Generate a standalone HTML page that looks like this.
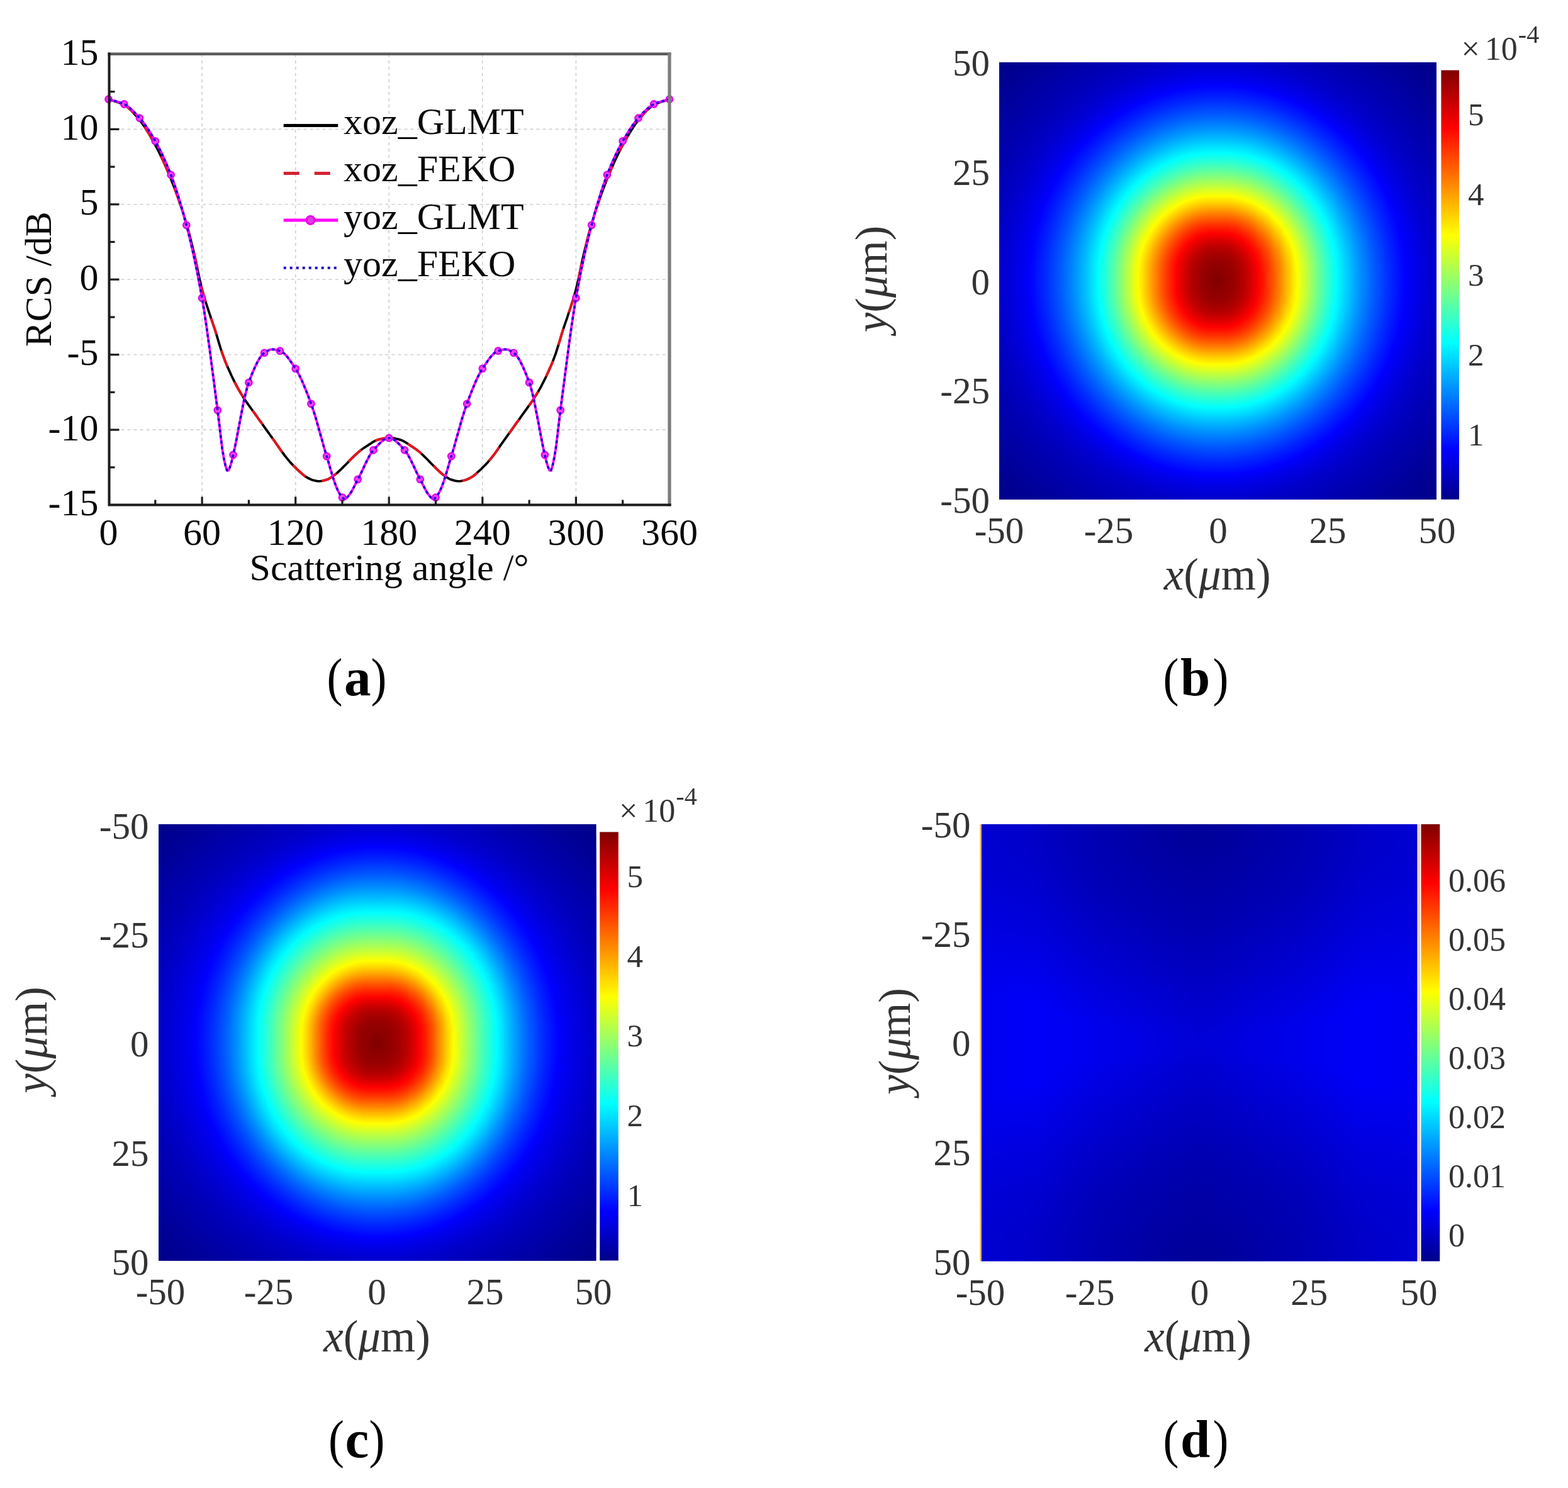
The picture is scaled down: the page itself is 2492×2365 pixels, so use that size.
<!DOCTYPE html>
<html lang="en"><head><meta charset="utf-8"><title>Figure: RCS and field distributions</title>
<style>html,body{margin:0;padding:0;background:#fff}body{width:2492px;height:2365px}svg{display:block}text{white-space:pre}</style>
</head><body>
<svg width="2492" height="2365" viewBox="0 0 2492 2365" role="img" aria-label="Four-panel figure: RCS curves and field intensity maps">
<defs><clipPath id="clipA"><rect x="170.5" y="86.0" width="895.5" height="716.5"/></clipPath></defs>
<rect x="0" y="0" width="2492" height="2365" fill="#fff"/>
<g id="panel-a">
<g stroke="#d0d0d0" stroke-width="1.6" stroke-dasharray="5 5" fill="none"><line x1="321.1" y1="86.0" x2="321.1" y2="802.5"/><line x1="469.7" y1="86.0" x2="469.7" y2="802.5"/><line x1="618.2" y1="86.0" x2="618.2" y2="802.5"/><line x1="766.8" y1="86.0" x2="766.8" y2="802.5"/><line x1="915.4" y1="86.0" x2="915.4" y2="802.5"/><line x1="172.5" y1="205.4" x2="1064.0" y2="205.4"/><line x1="172.5" y1="324.8" x2="1064.0" y2="324.8"/><line x1="172.5" y1="444.2" x2="1064.0" y2="444.2"/><line x1="172.5" y1="563.7" x2="1064.0" y2="563.7"/><line x1="172.5" y1="683.1" x2="1064.0" y2="683.1"/></g>
<g fill="none" stroke-linejoin="round" clip-path="url(#clipA)">
<path d="M172.5,157.7 L175.0,158.5 L177.5,159.3 L179.9,160.1 L182.4,160.9 L184.9,161.7 L187.4,162.5 L189.8,163.4 L192.3,164.4 L194.8,165.5 L197.3,166.7 L199.7,168.2 L202.2,170.0 L204.7,172.0 L207.2,174.3 L209.6,176.8 L212.1,179.4 L214.6,182.2 L217.1,185.1 L219.6,188.1 L222.0,191.1 L224.5,194.2 L227.0,197.6 L229.5,201.2 L231.9,204.9 L234.4,208.9 L236.9,213.0 L239.4,217.2 L241.8,221.5 L244.3,226.0 L246.8,230.5 L249.3,235.1 L251.7,239.9 L254.2,244.9 L256.7,250.1 L259.2,255.4 L261.6,260.8 L264.1,266.5 L266.6,272.2 L269.1,278.2 L271.6,284.2 L274.0,290.5 L276.5,296.9 L279.0,303.5 L281.5,310.3 L283.9,317.3 L286.4,324.6 L288.9,332.0 L291.4,339.7 L293.8,347.7 L296.3,355.9 L298.8,364.5 L301.3,373.7 L303.7,383.4 L306.2,393.4 L308.7,403.6 L311.2,414.6 L313.7,426.4 L316.1,438.4 L318.6,449.8 L321.1,460.0 L323.6,468.9 L326.0,477.0 L328.5,484.8 L331.0,492.5 L333.5,500.0 L335.9,507.3 L338.4,514.5 L340.9,521.9 L343.4,529.6 L345.8,537.8 L348.3,546.1 L350.8,554.2 L353.3,561.8 L355.8,568.6 L358.2,575.0 L360.7,580.9 L363.2,586.6 L365.7,592.1 L368.1,597.5 L370.6,602.7 L373.1,607.6 L375.6,612.4 L378.0,617.0 L380.5,621.3 L383.0,625.5 L385.5,629.5 L387.9,633.3 L390.4,637.1 L392.9,640.7 L395.4,644.2 L397.9,647.6 L400.3,651.0 L402.8,654.4 L405.3,657.9 L407.8,661.3 L410.2,664.8 L412.7,668.3 L415.2,671.7 L417.7,675.2 L420.1,678.6 L422.6,682.1 L425.1,685.6 L427.6,689.0 L430.0,692.5 L432.5,695.9 L435.0,699.4 L437.5,702.9 L439.9,706.3 L442.4,709.9 L444.9,713.5 L447.4,717.1 L449.9,720.5 L452.3,723.8 L454.8,726.9 L457.3,730.0 L459.8,732.9 L462.2,735.7 L464.7,738.4 L467.2,741.0 L469.7,743.4 L472.1,745.8 L474.6,748.1 L477.1,750.3 L479.6,752.6 L482.0,754.7 L484.5,756.7 L487.0,758.4 L489.5,759.7 L492.0,761.0 L494.4,762.1 L496.9,763.0 L499.4,763.7 L501.9,764.2 L504.3,764.6 L506.8,764.8 L509.3,764.7 L511.8,764.3 L514.2,763.8 L516.7,763.1 L519.2,762.4 L521.7,761.4 L524.1,760.1 L526.6,758.5 L529.1,756.8 L531.6,755.0 L534.1,753.1 L536.5,751.0 L539.0,748.7 L541.5,746.3 L544.0,743.9 L546.4,741.4 L548.9,739.0 L551.4,736.5 L553.9,733.9 L556.3,731.3 L558.8,728.7 L561.3,726.3 L563.8,723.9 L566.2,721.6 L568.7,719.4 L571.2,717.3 L573.7,715.3 L576.2,713.5 L578.6,711.8 L581.1,710.2 L583.6,708.6 L586.1,706.9 L588.5,705.3 L591.0,703.6 L593.5,702.1 L596.0,700.8 L598.4,699.8 L600.9,698.9 L603.4,698.1 L605.9,697.5 L608.3,697.0 L610.8,696.7 L613.3,696.5 L615.8,696.3 L618.2,696.2 L620.7,696.3 L623.2,696.5 L625.7,696.7 L628.2,697.0 L630.6,697.5 L633.1,698.1 L635.6,698.9 L638.1,699.8 L640.5,700.8 L643.0,702.1 L645.5,703.6 L648.0,705.3 L650.4,706.9 L652.9,708.6 L655.4,710.2 L657.9,711.8 L660.3,713.5 L662.8,715.3 L665.3,717.3 L667.8,719.4 L670.3,721.6 L672.7,723.9 L675.2,726.3 L677.7,728.7 L680.2,731.3 L682.6,733.9 L685.1,736.5 L687.6,739.0 L690.1,741.4 L692.5,743.9 L695.0,746.3 L697.5,748.7 L700.0,751.0 L702.4,753.1 L704.9,755.0 L707.4,756.8 L709.9,758.5 L712.4,760.1 L714.8,761.4 L717.3,762.4 L719.8,763.1 L722.3,763.8 L724.7,764.3 L727.2,764.7 L729.7,764.8 L732.2,764.6 L734.6,764.2 L737.1,763.7 L739.6,763.0 L742.1,762.1 L744.5,761.0 L747.0,759.7 L749.5,758.4 L752.0,756.7 L754.5,754.7 L756.9,752.6 L759.4,750.3 L761.9,748.1 L764.4,745.8 L766.8,743.4 L769.3,741.0 L771.8,738.4 L774.3,735.7 L776.7,732.9 L779.2,730.0 L781.7,726.9 L784.2,723.8 L786.6,720.5 L789.1,717.1 L791.6,713.5 L794.1,709.9 L796.5,706.3 L799.0,702.9 L801.5,699.4 L804.0,695.9 L806.5,692.5 L808.9,689.0 L811.4,685.6 L813.9,682.1 L816.4,678.6 L818.8,675.2 L821.3,671.7 L823.8,668.3 L826.3,664.8 L828.7,661.3 L831.2,657.9 L833.7,654.4 L836.2,651.0 L838.6,647.6 L841.1,644.2 L843.6,640.7 L846.1,637.1 L848.6,633.3 L851.0,629.5 L853.5,625.5 L856.0,621.3 L858.5,617.0 L860.9,612.4 L863.4,607.6 L865.9,602.7 L868.4,597.5 L870.8,592.1 L873.3,586.6 L875.8,580.9 L878.3,575.0 L880.7,568.6 L883.2,561.8 L885.7,554.2 L888.2,546.1 L890.7,537.8 L893.1,529.6 L895.6,521.9 L898.1,514.5 L900.6,507.3 L903.0,500.0 L905.5,492.5 L908.0,484.8 L910.5,477.0 L912.9,468.9 L915.4,460.0 L917.9,449.8 L920.4,438.4 L922.8,426.4 L925.3,414.6 L927.8,403.6 L930.3,393.4 L932.8,383.4 L935.2,373.7 L937.7,364.5 L940.2,355.9 L942.7,347.7 L945.1,339.7 L947.6,332.0 L950.1,324.6 L952.6,317.3 L955.0,310.3 L957.5,303.5 L960.0,296.9 L962.5,290.5 L964.9,284.2 L967.4,278.2 L969.9,272.2 L972.4,266.5 L974.9,260.8 L977.3,255.4 L979.8,250.1 L982.3,244.9 L984.8,239.9 L987.2,235.1 L989.7,230.5 L992.2,226.0 L994.7,221.5 L997.1,217.2 L999.6,213.0 L1002.1,208.9 L1004.6,204.9 L1007.0,201.2 L1009.5,197.6 L1012.0,194.2 L1014.5,191.1 L1016.9,188.1 L1019.4,185.1 L1021.9,182.2 L1024.4,179.4 L1026.9,176.8 L1029.3,174.3 L1031.8,172.0 L1034.3,170.0 L1036.8,168.2 L1039.2,166.7 L1041.7,165.5 L1044.2,164.4 L1046.7,163.4 L1049.1,162.5 L1051.6,161.7 L1054.1,160.9 L1056.6,160.1 L1059.0,159.3 L1061.5,158.5 L1064.0,157.7" stroke="#000" stroke-width="3.8"/>
<path d="M172.5,157.7 L175.0,158.5 L177.5,159.3 L179.9,160.1 L182.4,160.9 L184.9,161.7 L187.4,162.5 L189.8,163.4 L192.3,164.4 L194.8,165.5 L197.3,166.7 L199.7,168.2 L202.2,170.0 L204.7,172.0 L207.2,174.3 L209.6,176.8 L212.1,179.4 L214.6,182.2 L217.1,185.1 L219.6,188.1 L222.0,191.1 L224.5,194.2 L227.0,197.6 L229.5,201.2 L231.9,204.9 L234.4,208.9 L236.9,213.0 L239.4,217.2 L241.8,221.5 L244.3,226.0 L246.8,230.5 L249.3,235.1 L251.7,239.9 L254.2,244.9 L256.7,250.1 L259.2,255.4 L261.6,260.8 L264.1,266.5 L266.6,272.2 L269.1,278.2 L271.6,284.2 L274.0,290.5 L276.5,296.9 L279.0,303.5 L281.5,310.3 L283.9,317.3 L286.4,324.6 L288.9,332.0 L291.4,339.7 L293.8,347.7 L296.3,355.9 L298.8,364.5 L301.3,373.7 L303.7,383.4 L306.2,393.4 L308.7,403.6 L311.2,414.6 L313.7,426.4 L316.1,438.4 L318.6,449.8 L321.1,460.0 L323.6,468.9 L326.0,477.0 L328.5,484.8 L331.0,492.5 L333.5,500.0 L335.9,507.3 L338.4,514.5 L340.9,521.9 L343.4,529.6 L345.8,537.8 L348.3,546.1 L350.8,554.2 L353.3,561.8 L355.8,568.6 L358.2,575.0 L360.7,580.9 L363.2,586.6 L365.7,592.1 L368.1,597.5 L370.6,602.7 L373.1,607.6 L375.6,612.4 L378.0,617.0 L380.5,621.3 L383.0,625.5 L385.5,629.5 L387.9,633.3 L390.4,637.1 L392.9,640.7 L395.4,644.2 L397.9,647.6 L400.3,651.0 L402.8,654.4 L405.3,657.9 L407.8,661.3 L410.2,664.8 L412.7,668.3 L415.2,671.7 L417.7,675.2 L420.1,678.6 L422.6,682.1 L425.1,685.6 L427.6,689.0 L430.0,692.5 L432.5,695.9 L435.0,699.4 L437.5,702.9 L439.9,706.3 L442.4,709.9 L444.9,713.5 L447.4,717.1 L449.9,720.5 L452.3,723.8 L454.8,726.9 L457.3,730.0 L459.8,732.9 L462.2,735.7 L464.7,738.4 L467.2,741.0 L469.7,743.4 L472.1,745.8 L474.6,748.1 L477.1,750.3 L479.6,752.6 L482.0,754.7 L484.5,756.7 L487.0,758.4 L489.5,759.7 L492.0,761.0 L494.4,762.1 L496.9,763.0 L499.4,763.7 L501.9,764.2 L504.3,764.6 L506.8,764.8 L509.3,764.7 L511.8,764.3 L514.2,763.8 L516.7,763.1 L519.2,762.4 L521.7,761.4 L524.1,760.1 L526.6,758.5 L529.1,756.8 L531.6,755.0 L534.1,753.1 L536.5,751.0 L539.0,748.7 L541.5,746.3 L544.0,743.9 L546.4,741.4 L548.9,739.0 L551.4,736.5 L553.9,733.9 L556.3,731.3 L558.8,728.7 L561.3,726.3 L563.8,723.9 L566.2,721.6 L568.7,719.4 L571.2,717.3 L573.7,715.3 L576.2,713.5 L578.6,711.8 L581.1,710.2 L583.6,708.6 L586.1,706.9 L588.5,705.3 L591.0,703.6 L593.5,702.1 L596.0,700.8 L598.4,699.8 L600.9,698.9 L603.4,698.1 L605.9,697.5 L608.3,697.0 L610.8,696.7 L613.3,696.5 L615.8,696.3 L618.2,696.2 L620.7,696.3 L623.2,696.5 L625.7,696.7 L628.2,697.0 L630.6,697.5 L633.1,698.1 L635.6,698.9 L638.1,699.8 L640.5,700.8 L643.0,702.1 L645.5,703.6 L648.0,705.3 L650.4,706.9 L652.9,708.6 L655.4,710.2 L657.9,711.8 L660.3,713.5 L662.8,715.3 L665.3,717.3 L667.8,719.4 L670.3,721.6 L672.7,723.9 L675.2,726.3 L677.7,728.7 L680.2,731.3 L682.6,733.9 L685.1,736.5 L687.6,739.0 L690.1,741.4 L692.5,743.9 L695.0,746.3 L697.5,748.7 L700.0,751.0 L702.4,753.1 L704.9,755.0 L707.4,756.8 L709.9,758.5 L712.4,760.1 L714.8,761.4 L717.3,762.4 L719.8,763.1 L722.3,763.8 L724.7,764.3 L727.2,764.7 L729.7,764.8 L732.2,764.6 L734.6,764.2 L737.1,763.7 L739.6,763.0 L742.1,762.1 L744.5,761.0 L747.0,759.7 L749.5,758.4 L752.0,756.7 L754.5,754.7 L756.9,752.6 L759.4,750.3 L761.9,748.1 L764.4,745.8 L766.8,743.4 L769.3,741.0 L771.8,738.4 L774.3,735.7 L776.7,732.9 L779.2,730.0 L781.7,726.9 L784.2,723.8 L786.6,720.5 L789.1,717.1 L791.6,713.5 L794.1,709.9 L796.5,706.3 L799.0,702.9 L801.5,699.4 L804.0,695.9 L806.5,692.5 L808.9,689.0 L811.4,685.6 L813.9,682.1 L816.4,678.6 L818.8,675.2 L821.3,671.7 L823.8,668.3 L826.3,664.8 L828.7,661.3 L831.2,657.9 L833.7,654.4 L836.2,651.0 L838.6,647.6 L841.1,644.2 L843.6,640.7 L846.1,637.1 L848.6,633.3 L851.0,629.5 L853.5,625.5 L856.0,621.3 L858.5,617.0 L860.9,612.4 L863.4,607.6 L865.9,602.7 L868.4,597.5 L870.8,592.1 L873.3,586.6 L875.8,580.9 L878.3,575.0 L880.7,568.6 L883.2,561.8 L885.7,554.2 L888.2,546.1 L890.7,537.8 L893.1,529.6 L895.6,521.9 L898.1,514.5 L900.6,507.3 L903.0,500.0 L905.5,492.5 L908.0,484.8 L910.5,477.0 L912.9,468.9 L915.4,460.0 L917.9,449.8 L920.4,438.4 L922.8,426.4 L925.3,414.6 L927.8,403.6 L930.3,393.4 L932.8,383.4 L935.2,373.7 L937.7,364.5 L940.2,355.9 L942.7,347.7 L945.1,339.7 L947.6,332.0 L950.1,324.6 L952.6,317.3 L955.0,310.3 L957.5,303.5 L960.0,296.9 L962.5,290.5 L964.9,284.2 L967.4,278.2 L969.9,272.2 L972.4,266.5 L974.9,260.8 L977.3,255.4 L979.8,250.1 L982.3,244.9 L984.8,239.9 L987.2,235.1 L989.7,230.5 L992.2,226.0 L994.7,221.5 L997.1,217.2 L999.6,213.0 L1002.1,208.9 L1004.6,204.9 L1007.0,201.2 L1009.5,197.6 L1012.0,194.2 L1014.5,191.1 L1016.9,188.1 L1019.4,185.1 L1021.9,182.2 L1024.4,179.4 L1026.9,176.8 L1029.3,174.3 L1031.8,172.0 L1034.3,170.0 L1036.8,168.2 L1039.2,166.7 L1041.7,165.5 L1044.2,164.4 L1046.7,163.4 L1049.1,162.5 L1051.6,161.7 L1054.1,160.9 L1056.6,160.1 L1059.0,159.3 L1061.5,158.5 L1064.0,157.7" stroke="#e8141e" stroke-width="3.8" stroke-dasharray="27 27" stroke-dashoffset="-20"/>
<path d="M172.5,157.7 L175.0,158.4 L177.5,159.1 L179.9,159.8 L182.4,160.4 L184.9,161.1 L187.4,161.8 L189.8,162.6 L192.3,163.5 L194.8,164.4 L197.3,165.5 L199.7,166.8 L202.2,168.4 L204.7,170.3 L207.2,172.4 L209.6,174.6 L212.1,177.1 L214.6,179.6 L217.1,182.3 L219.6,185.0 L222.0,187.7 L224.5,190.6 L227.0,193.7 L229.5,197.0 L231.9,200.4 L234.4,204.0 L236.9,207.8 L239.4,211.7 L241.8,215.8 L244.3,220.0 L246.8,224.3 L249.3,228.7 L251.7,233.4 L254.2,238.2 L256.7,243.2 L259.2,248.4 L261.6,253.9 L264.1,259.5 L266.6,265.4 L269.1,271.5 L271.6,277.8 L274.0,284.4 L276.5,291.3 L279.0,298.5 L281.5,306.1 L283.9,314.0 L286.4,322.2 L288.9,330.6 L291.4,339.4 L293.8,348.5 L296.3,357.8 L298.8,367.4 L301.3,377.5 L303.7,387.9 L306.2,398.7 L308.7,410.0 L311.2,421.7 L313.7,433.9 L316.1,446.6 L318.6,459.9 L321.1,473.6 L323.6,488.3 L326.0,504.2 L328.5,521.1 L331.0,538.9 L333.5,557.2 L335.9,576.0 L338.4,595.1 L340.9,614.2 L343.4,633.3 L345.8,652.0 L348.3,672.3 L350.8,694.0 L353.3,713.8 L355.8,728.5 L358.2,739.6 L360.7,747.5 L363.2,747.7 L365.7,741.7 L368.1,733.7 L370.6,723.0 L373.1,711.8 L375.6,699.6 L378.0,686.8 L380.5,673.7 L383.0,660.6 L385.5,647.9 L387.9,635.9 L390.4,625.0 L392.9,615.5 L395.4,607.9 L397.9,601.3 L400.3,594.9 L402.8,588.9 L405.3,583.3 L407.8,578.1 L410.2,573.3 L412.7,569.2 L415.2,565.7 L417.7,562.9 L420.1,560.8 L422.6,559.2 L425.1,557.7 L427.6,556.4 L430.0,555.6 L432.5,555.3 L435.0,555.4 L437.5,555.8 L439.9,556.3 L442.4,557.0 L444.9,557.7 L447.4,558.8 L449.9,560.4 L452.3,562.5 L454.8,565.1 L457.3,568.0 L459.8,571.3 L462.2,574.8 L464.7,578.4 L467.2,582.1 L469.7,585.9 L472.1,589.9 L474.6,594.3 L477.1,599.2 L479.6,604.5 L482.0,610.1 L484.5,616.1 L487.0,622.2 L489.5,628.6 L492.0,635.1 L494.4,641.8 L496.9,648.8 L499.4,656.5 L501.9,664.6 L504.3,673.1 L506.8,681.9 L509.3,690.7 L511.8,699.6 L514.2,708.4 L516.7,716.9 L519.2,725.1 L521.7,733.3 L524.1,741.8 L526.6,750.3 L529.1,758.5 L531.6,766.1 L534.1,772.9 L536.5,778.6 L539.0,783.4 L541.5,787.5 L544.0,790.6 L546.4,793.0 L548.9,793.1 L551.4,791.0 L553.9,788.2 L556.3,785.0 L558.8,781.0 L561.3,776.4 L563.8,771.5 L566.2,766.6 L568.7,761.9 L571.2,757.2 L573.7,752.2 L576.2,746.9 L578.6,741.6 L581.1,736.4 L583.6,731.3 L586.1,726.5 L588.5,722.2 L591.0,718.4 L593.5,715.3 L596.0,712.6 L598.4,709.9 L600.9,707.2 L603.4,704.7 L605.9,702.4 L608.3,700.3 L610.8,698.6 L613.3,697.3 L615.8,696.5 L618.2,696.2 L620.7,696.5 L623.2,697.3 L625.7,698.6 L628.2,700.3 L630.6,702.4 L633.1,704.7 L635.6,707.2 L638.1,709.9 L640.5,712.6 L643.0,715.3 L645.5,718.4 L648.0,722.2 L650.4,726.5 L652.9,731.3 L655.4,736.4 L657.9,741.6 L660.3,746.9 L662.8,752.2 L665.3,757.2 L667.8,761.9 L670.3,766.6 L672.7,771.5 L675.2,776.4 L677.7,781.0 L680.2,785.0 L682.6,788.2 L685.1,791.0 L687.6,793.1 L690.1,793.0 L692.5,790.6 L695.0,787.5 L697.5,783.4 L700.0,778.6 L702.4,772.9 L704.9,766.1 L707.4,758.5 L709.9,750.3 L712.4,741.8 L714.8,733.3 L717.3,725.1 L719.8,716.9 L722.3,708.4 L724.7,699.6 L727.2,690.7 L729.7,681.9 L732.2,673.1 L734.6,664.6 L737.1,656.5 L739.6,648.8 L742.1,641.8 L744.5,635.1 L747.0,628.6 L749.5,622.2 L752.0,616.1 L754.5,610.1 L756.9,604.5 L759.4,599.2 L761.9,594.3 L764.4,589.9 L766.8,585.9 L769.3,582.1 L771.8,578.4 L774.3,574.8 L776.7,571.3 L779.2,568.0 L781.7,565.1 L784.2,562.5 L786.6,560.4 L789.1,558.8 L791.6,557.7 L794.1,557.0 L796.5,556.3 L799.0,555.8 L801.5,555.4 L804.0,555.3 L806.5,555.6 L808.9,556.4 L811.4,557.7 L813.9,559.2 L816.4,560.8 L818.8,562.9 L821.3,565.7 L823.8,569.2 L826.3,573.3 L828.7,578.1 L831.2,583.3 L833.7,588.9 L836.2,594.9 L838.6,601.3 L841.1,607.9 L843.6,615.5 L846.1,625.0 L848.6,635.9 L851.0,647.9 L853.5,660.6 L856.0,673.7 L858.5,686.8 L860.9,699.6 L863.4,711.8 L865.9,723.0 L868.4,733.7 L870.8,741.7 L873.3,747.7 L875.8,747.5 L878.3,739.6 L880.7,728.5 L883.2,713.8 L885.7,694.0 L888.2,672.3 L890.7,652.0 L893.1,633.3 L895.6,614.2 L898.1,595.1 L900.6,576.0 L903.0,557.2 L905.5,538.9 L908.0,521.1 L910.5,504.2 L912.9,488.3 L915.4,473.6 L917.9,459.9 L920.4,446.6 L922.8,433.9 L925.3,421.7 L927.8,410.0 L930.3,398.7 L932.8,387.9 L935.2,377.5 L937.7,367.4 L940.2,357.8 L942.7,348.5 L945.1,339.4 L947.6,330.6 L950.1,322.2 L952.6,314.0 L955.0,306.1 L957.5,298.5 L960.0,291.3 L962.5,284.4 L964.9,277.8 L967.4,271.5 L969.9,265.4 L972.4,259.5 L974.9,253.9 L977.3,248.4 L979.8,243.2 L982.3,238.2 L984.8,233.4 L987.2,228.7 L989.7,224.3 L992.2,220.0 L994.7,215.8 L997.1,211.7 L999.6,207.8 L1002.1,204.0 L1004.6,200.4 L1007.0,197.0 L1009.5,193.7 L1012.0,190.6 L1014.5,187.7 L1016.9,185.0 L1019.4,182.3 L1021.9,179.6 L1024.4,177.1 L1026.9,174.6 L1029.3,172.4 L1031.8,170.3 L1034.3,168.4 L1036.8,166.8 L1039.2,165.5 L1041.7,164.4 L1044.2,163.5 L1046.7,162.6 L1049.1,161.8 L1051.6,161.1 L1054.1,160.4 L1056.6,159.8 L1059.0,159.1 L1061.5,158.4 L1064.0,157.7" stroke="#f000f8" stroke-width="3.8"/>
</g>
<g fill="#ee44f4" stroke="#e000ea" stroke-width="2.4"><circle cx="172.5" cy="157.7" r="5.2"/><circle cx="197.3" cy="165.5" r="5.2"/><circle cx="222.0" cy="187.7" r="5.2"/><circle cx="246.8" cy="224.3" r="5.2"/><circle cx="271.6" cy="277.8" r="5.2"/><circle cx="296.3" cy="357.8" r="5.2"/><circle cx="321.1" cy="473.6" r="5.2"/><circle cx="345.8" cy="652.0" r="5.2"/><circle cx="370.6" cy="723.0" r="5.2"/><circle cx="395.4" cy="607.9" r="5.2"/><circle cx="420.1" cy="560.8" r="5.2"/><circle cx="444.9" cy="557.7" r="5.2"/><circle cx="469.7" cy="585.9" r="5.2"/><circle cx="494.4" cy="641.8" r="5.2"/><circle cx="519.2" cy="725.1" r="5.2"/><circle cx="544.0" cy="790.6" r="5.2"/><circle cx="568.7" cy="761.9" r="5.2"/><circle cx="593.5" cy="715.3" r="5.2"/><circle cx="618.2" cy="696.2" r="5.2"/><circle cx="643.0" cy="715.3" r="5.2"/><circle cx="667.8" cy="761.9" r="5.2"/><circle cx="692.5" cy="790.6" r="5.2"/><circle cx="717.3" cy="725.1" r="5.2"/><circle cx="742.1" cy="641.8" r="5.2"/><circle cx="766.8" cy="585.9" r="5.2"/><circle cx="791.6" cy="557.7" r="5.2"/><circle cx="816.4" cy="560.8" r="5.2"/><circle cx="841.1" cy="607.9" r="5.2"/><circle cx="865.9" cy="723.0" r="5.2"/><circle cx="890.7" cy="652.0" r="5.2"/><circle cx="915.4" cy="473.6" r="5.2"/><circle cx="940.2" cy="357.8" r="5.2"/><circle cx="964.9" cy="277.8" r="5.2"/><circle cx="989.7" cy="224.3" r="5.2"/><circle cx="1014.5" cy="187.7" r="5.2"/><circle cx="1039.2" cy="165.5" r="5.2"/><circle cx="1064.0" cy="157.7" r="5.2"/></g>
<path d="M172.5,157.7 L175.0,158.4 L177.5,159.1 L179.9,159.8 L182.4,160.4 L184.9,161.1 L187.4,161.8 L189.8,162.6 L192.3,163.5 L194.8,164.4 L197.3,165.5 L199.7,166.8 L202.2,168.4 L204.7,170.3 L207.2,172.4 L209.6,174.6 L212.1,177.1 L214.6,179.6 L217.1,182.3 L219.6,185.0 L222.0,187.7 L224.5,190.6 L227.0,193.7 L229.5,197.0 L231.9,200.4 L234.4,204.0 L236.9,207.8 L239.4,211.7 L241.8,215.8 L244.3,220.0 L246.8,224.3 L249.3,228.7 L251.7,233.4 L254.2,238.2 L256.7,243.2 L259.2,248.4 L261.6,253.9 L264.1,259.5 L266.6,265.4 L269.1,271.5 L271.6,277.8 L274.0,284.4 L276.5,291.3 L279.0,298.5 L281.5,306.1 L283.9,314.0 L286.4,322.2 L288.9,330.6 L291.4,339.4 L293.8,348.5 L296.3,357.8 L298.8,367.4 L301.3,377.5 L303.7,387.9 L306.2,398.7 L308.7,410.0 L311.2,421.7 L313.7,433.9 L316.1,446.6 L318.6,459.9 L321.1,473.6 L323.6,488.3 L326.0,504.2 L328.5,521.1 L331.0,538.9 L333.5,557.2 L335.9,576.0 L338.4,595.1 L340.9,614.2 L343.4,633.3 L345.8,652.0 L348.3,672.3 L350.8,694.0 L353.3,713.8 L355.8,728.5 L358.2,739.6 L360.7,747.5 L363.2,747.7 L365.7,741.7 L368.1,733.7 L370.6,723.0 L373.1,711.8 L375.6,699.6 L378.0,686.8 L380.5,673.7 L383.0,660.6 L385.5,647.9 L387.9,635.9 L390.4,625.0 L392.9,615.5 L395.4,607.9 L397.9,601.3 L400.3,594.9 L402.8,588.9 L405.3,583.3 L407.8,578.1 L410.2,573.3 L412.7,569.2 L415.2,565.7 L417.7,562.9 L420.1,560.8 L422.6,559.2 L425.1,557.7 L427.6,556.4 L430.0,555.6 L432.5,555.3 L435.0,555.4 L437.5,555.8 L439.9,556.3 L442.4,557.0 L444.9,557.7 L447.4,558.8 L449.9,560.4 L452.3,562.5 L454.8,565.1 L457.3,568.0 L459.8,571.3 L462.2,574.8 L464.7,578.4 L467.2,582.1 L469.7,585.9 L472.1,589.9 L474.6,594.3 L477.1,599.2 L479.6,604.5 L482.0,610.1 L484.5,616.1 L487.0,622.2 L489.5,628.6 L492.0,635.1 L494.4,641.8 L496.9,648.8 L499.4,656.5 L501.9,664.6 L504.3,673.1 L506.8,681.9 L509.3,690.7 L511.8,699.6 L514.2,708.4 L516.7,716.9 L519.2,725.1 L521.7,733.3 L524.1,741.8 L526.6,750.3 L529.1,758.5 L531.6,766.1 L534.1,772.9 L536.5,778.6 L539.0,783.4 L541.5,787.5 L544.0,790.6 L546.4,793.0 L548.9,793.1 L551.4,791.0 L553.9,788.2 L556.3,785.0 L558.8,781.0 L561.3,776.4 L563.8,771.5 L566.2,766.6 L568.7,761.9 L571.2,757.2 L573.7,752.2 L576.2,746.9 L578.6,741.6 L581.1,736.4 L583.6,731.3 L586.1,726.5 L588.5,722.2 L591.0,718.4 L593.5,715.3 L596.0,712.6 L598.4,709.9 L600.9,707.2 L603.4,704.7 L605.9,702.4 L608.3,700.3 L610.8,698.6 L613.3,697.3 L615.8,696.5 L618.2,696.2 L620.7,696.5 L623.2,697.3 L625.7,698.6 L628.2,700.3 L630.6,702.4 L633.1,704.7 L635.6,707.2 L638.1,709.9 L640.5,712.6 L643.0,715.3 L645.5,718.4 L648.0,722.2 L650.4,726.5 L652.9,731.3 L655.4,736.4 L657.9,741.6 L660.3,746.9 L662.8,752.2 L665.3,757.2 L667.8,761.9 L670.3,766.6 L672.7,771.5 L675.2,776.4 L677.7,781.0 L680.2,785.0 L682.6,788.2 L685.1,791.0 L687.6,793.1 L690.1,793.0 L692.5,790.6 L695.0,787.5 L697.5,783.4 L700.0,778.6 L702.4,772.9 L704.9,766.1 L707.4,758.5 L709.9,750.3 L712.4,741.8 L714.8,733.3 L717.3,725.1 L719.8,716.9 L722.3,708.4 L724.7,699.6 L727.2,690.7 L729.7,681.9 L732.2,673.1 L734.6,664.6 L737.1,656.5 L739.6,648.8 L742.1,641.8 L744.5,635.1 L747.0,628.6 L749.5,622.2 L752.0,616.1 L754.5,610.1 L756.9,604.5 L759.4,599.2 L761.9,594.3 L764.4,589.9 L766.8,585.9 L769.3,582.1 L771.8,578.4 L774.3,574.8 L776.7,571.3 L779.2,568.0 L781.7,565.1 L784.2,562.5 L786.6,560.4 L789.1,558.8 L791.6,557.7 L794.1,557.0 L796.5,556.3 L799.0,555.8 L801.5,555.4 L804.0,555.3 L806.5,555.6 L808.9,556.4 L811.4,557.7 L813.9,559.2 L816.4,560.8 L818.8,562.9 L821.3,565.7 L823.8,569.2 L826.3,573.3 L828.7,578.1 L831.2,583.3 L833.7,588.9 L836.2,594.9 L838.6,601.3 L841.1,607.9 L843.6,615.5 L846.1,625.0 L848.6,635.9 L851.0,647.9 L853.5,660.6 L856.0,673.7 L858.5,686.8 L860.9,699.6 L863.4,711.8 L865.9,723.0 L868.4,733.7 L870.8,741.7 L873.3,747.7 L875.8,747.5 L878.3,739.6 L880.7,728.5 L883.2,713.8 L885.7,694.0 L888.2,672.3 L890.7,652.0 L893.1,633.3 L895.6,614.2 L898.1,595.1 L900.6,576.0 L903.0,557.2 L905.5,538.9 L908.0,521.1 L910.5,504.2 L912.9,488.3 L915.4,473.6 L917.9,459.9 L920.4,446.6 L922.8,433.9 L925.3,421.7 L927.8,410.0 L930.3,398.7 L932.8,387.9 L935.2,377.5 L937.7,367.4 L940.2,357.8 L942.7,348.5 L945.1,339.4 L947.6,330.6 L950.1,322.2 L952.6,314.0 L955.0,306.1 L957.5,298.5 L960.0,291.3 L962.5,284.4 L964.9,277.8 L967.4,271.5 L969.9,265.4 L972.4,259.5 L974.9,253.9 L977.3,248.4 L979.8,243.2 L982.3,238.2 L984.8,233.4 L987.2,228.7 L989.7,224.3 L992.2,220.0 L994.7,215.8 L997.1,211.7 L999.6,207.8 L1002.1,204.0 L1004.6,200.4 L1007.0,197.0 L1009.5,193.7 L1012.0,190.6 L1014.5,187.7 L1016.9,185.0 L1019.4,182.3 L1021.9,179.6 L1024.4,177.1 L1026.9,174.6 L1029.3,172.4 L1031.8,170.3 L1034.3,168.4 L1036.8,166.8 L1039.2,165.5 L1041.7,164.4 L1044.2,163.5 L1046.7,162.6 L1049.1,161.8 L1051.6,161.1 L1054.1,160.4 L1056.6,159.8 L1059.0,159.1 L1061.5,158.4 L1064.0,157.7" fill="none" stroke="#2a00e0" stroke-width="3.6" stroke-dasharray="4.5 4.5" clip-path="url(#clipA)"/>
<path d="M171.5,85.7 H1066.5" fill="none" stroke="#5c5c5c" stroke-width="4.6"/>
<path d="M1064.0,83.4 V804.5" fill="none" stroke="#7c7c7c" stroke-width="5.2"/>
<path d="M173.5,83.4 V802.5 H1066.6" fill="none" stroke="#1c1c1c" stroke-width="4"/>
<g stroke="#1c1c1c" stroke-width="3.2"><line x1="246.8" y1="802.5" x2="246.8" y2="794.5"/><line x1="321.1" y1="802.5" x2="321.1" y2="789.5"/><line x1="395.4" y1="802.5" x2="395.4" y2="794.5"/><line x1="469.7" y1="802.5" x2="469.7" y2="789.5"/><line x1="544.0" y1="802.5" x2="544.0" y2="794.5"/><line x1="618.2" y1="802.5" x2="618.2" y2="789.5"/><line x1="692.5" y1="802.5" x2="692.5" y2="794.5"/><line x1="766.8" y1="802.5" x2="766.8" y2="789.5"/><line x1="841.1" y1="802.5" x2="841.1" y2="794.5"/><line x1="915.4" y1="802.5" x2="915.4" y2="789.5"/><line x1="989.7" y1="802.5" x2="989.7" y2="794.5"/><line x1="173.5" y1="145.7" x2="182.5" y2="145.7"/><line x1="173.5" y1="205.4" x2="189.5" y2="205.4"/><line x1="173.5" y1="265.1" x2="182.5" y2="265.1"/><line x1="173.5" y1="324.8" x2="189.5" y2="324.8"/><line x1="173.5" y1="384.5" x2="182.5" y2="384.5"/><line x1="173.5" y1="444.2" x2="189.5" y2="444.2"/><line x1="173.5" y1="504.0" x2="182.5" y2="504.0"/><line x1="173.5" y1="563.7" x2="189.5" y2="563.7"/><line x1="173.5" y1="623.4" x2="182.5" y2="623.4"/><line x1="173.5" y1="683.1" x2="189.5" y2="683.1"/><line x1="173.5" y1="742.8" x2="182.5" y2="742.8"/></g>
<g font-family='"Liberation Serif", "DejaVu Serif", serif' font-size="60" fill="#0a0a0a">
<text x="156.5" y="102.5" text-anchor="end">15</text>
<text x="156.5" y="221.9" text-anchor="end">10</text>
<text x="156.5" y="341.3" text-anchor="end">5</text>
<text x="156.5" y="460.8" text-anchor="end">0</text>
<text x="156.5" y="580.2" text-anchor="end">-5</text>
<text x="156.5" y="699.6" text-anchor="end">-10</text>
<text x="156.5" y="819.0" text-anchor="end">-15</text>
<text x="172.5" y="865.5" text-anchor="middle">0</text>
<text x="321.1" y="865.5" text-anchor="middle">60</text>
<text x="469.7" y="865.5" text-anchor="middle">120</text>
<text x="618.2" y="865.5" text-anchor="middle">180</text>
<text x="766.8" y="865.5" text-anchor="middle">240</text>
<text x="915.4" y="865.5" text-anchor="middle">300</text>
<text x="1064.0" y="865.5" text-anchor="middle">360</text>
<text x="618.5" y="921.5" text-anchor="middle">Scattering angle /°</text>
<text transform="translate(81,443.8) rotate(-90)" text-anchor="middle">RCS /dB</text>
<text x="546" y="212.8">xoz_GLMT</text>
<text x="546" y="288.0">xoz_FEKO</text>
<text x="546" y="364.2">yoz_GLMT</text>
<text x="546" y="438.6">yoz_FEKO</text>
</g>
<line x1="450.7" y1="199.6" x2="537.2" y2="199.6" stroke="#000" stroke-width="5"/>
<line x1="450.7" y1="275.4" x2="537.2" y2="275.4" stroke="#d42234" stroke-width="5" stroke-dasharray="25 24"/>
<line x1="450.7" y1="349.9" x2="537.2" y2="349.9" stroke="#ff00ff" stroke-width="5"/>
<circle cx="493.5" cy="349.9" r="6.5" fill="#e040e0" stroke="#e600e6" stroke-width="3"/>
<line x1="450.7" y1="425.7" x2="537.2" y2="425.7" stroke="#1a00c8" stroke-width="4" stroke-dasharray="4 6"/>
</g>
<g id="panel-b">
<clipPath id="gB"><rect x="1588.0" y="99.3" width="695.0" height="694.5"/></clipPath>
<g clip-path="url(#gB)" shape-rendering="geometricPrecision">
<rect x="1586.0" y="97.3" width="699.0" height="698.5" fill="#000080"/>
<rect x="1398.6" y="-90.8" width="1072.7" height="1072.7" rx="536.4" ry="536.3" fill="#000083"/><rect x="1422.4" y="-67.0" width="1025.1" height="1025.0" rx="512.6" ry="512.5" fill="#000087"/><rect x="1442.1" y="-47.4" width="985.8" height="985.7" rx="492.9" ry="492.9" fill="#00008b"/><rect x="1456.8" y="-32.9" width="956.5" height="956.9" rx="478.2" ry="478.4" fill="#00008f"/><rect x="1469.9" y="-20.0" width="930.2" height="931.0" rx="465.1" ry="465.5" fill="#000093"/><rect x="1481.9" y="-8.3" width="906.3" height="907.6" rx="453.1" ry="453.8" fill="#000097"/><rect x="1492.7" y="2.3" width="884.6" height="886.4" rx="442.3" ry="443.2" fill="#00009b"/><rect x="1502.7" y="12.0" width="864.6" height="867.0" rx="432.3" ry="433.5" fill="#00009f"/><rect x="1512.0" y="21.1" width="846.0" height="848.9" rx="423.0" ry="424.4" fill="#0000a3"/><rect x="1520.8" y="29.6" width="828.5" height="831.8" rx="414.2" ry="415.9" fill="#0000a7"/><rect x="1529.2" y="37.8" width="811.6" height="815.3" rx="405.8" ry="407.7" fill="#0000ab"/><rect x="1537.5" y="45.9" width="795.1" height="799.2" rx="397.5" ry="399.6" fill="#0000af"/><rect x="1545.5" y="53.9" width="779.0" height="783.2" rx="389.5" ry="391.6" fill="#0000b2"/><rect x="1553.2" y="61.6" width="763.5" height="767.8" rx="381.8" ry="383.9" fill="#0000b6"/><rect x="1560.6" y="69.0" width="748.8" height="753.0" rx="374.4" ry="376.5" fill="#0000ba"/><rect x="1567.6" y="75.9" width="734.9" height="739.1" rx="367.4" ry="369.6" fill="#0000be"/><rect x="1574.1" y="82.4" width="721.9" height="726.3" rx="360.9" ry="363.1" fill="#0000c2"/><rect x="1580.1" y="88.2" width="709.9" height="714.7" rx="354.9" ry="357.3" fill="#0000c6"/><rect x="1585.5" y="93.3" width="699.0" height="704.5" rx="349.5" ry="352.2" fill="#0000ca"/><rect x="1590.4" y="97.6" width="689.2" height="695.8" rx="344.6" ry="347.9" fill="#0000ce"/><rect x="1595.0" y="101.6" width="679.9" height="687.8" rx="340.0" ry="343.9" fill="#0000d2"/><rect x="1599.5" y="105.4" width="671.1" height="680.3" rx="335.5" ry="340.1" fill="#0000d6"/><rect x="1603.7" y="108.9" width="662.6" height="673.3" rx="331.3" ry="336.6" fill="#0000da"/><rect x="1607.8" y="112.2" width="654.5" height="666.6" rx="327.2" ry="333.3" fill="#0000de"/><rect x="1611.6" y="115.3" width="646.8" height="660.4" rx="323.4" ry="330.2" fill="#0000e2"/><rect x="1615.3" y="118.2" width="639.4" height="654.5" rx="319.7" ry="327.3" fill="#0000e6"/><rect x="1618.8" y="121.0" width="632.4" height="649.0" rx="316.2" ry="324.5" fill="#0000e9"/><rect x="1622.1" y="123.7" width="625.8" height="643.7" rx="312.9" ry="321.8" fill="#0000ed"/><rect x="1625.3" y="126.2" width="619.5" height="638.6" rx="309.7" ry="319.3" fill="#0000f1"/><rect x="1628.2" y="128.7" width="613.5" height="633.7" rx="306.8" ry="316.8" fill="#0000f5"/><rect x="1631.1" y="131.0" width="607.9" height="628.9" rx="303.9" ry="314.5" fill="#0000f9"/><rect x="1633.7" y="133.4" width="602.5" height="624.3" rx="301.3" ry="312.1" fill="#0000fd"/><rect x="1636.2" y="135.6" width="597.5" height="619.7" rx="298.7" ry="309.9" fill="#0002ff"/><rect x="1638.7" y="137.9" width="592.6" height="615.2" rx="296.3" ry="307.6" fill="#0006ff"/><rect x="1641.2" y="140.1" width="587.7" height="610.7" rx="293.8" ry="305.3" fill="#000aff"/><rect x="1643.6" y="142.3" width="582.9" height="606.3" rx="291.4" ry="303.1" fill="#000eff"/><rect x="1645.9" y="144.5" width="578.1" height="602.0" rx="289.0" ry="300.9" fill="#0012ff"/><rect x="1648.3" y="146.7" width="573.5" height="597.7" rx="286.6" ry="298.7" fill="#0016ff"/><rect x="1650.6" y="148.8" width="568.9" height="593.4" rx="284.2" ry="296.5" fill="#001aff"/><rect x="1652.8" y="150.9" width="564.3" height="589.2" rx="281.9" ry="294.3" fill="#001dff"/><rect x="1655.1" y="153.0" width="559.9" height="585.0" rx="279.6" ry="292.1" fill="#0021ff"/><rect x="1657.3" y="155.0" width="555.5" height="580.9" rx="277.3" ry="290.0" fill="#0025ff"/><rect x="1659.4" y="157.1" width="551.1" height="576.9" rx="275.0" ry="287.8" fill="#0029ff"/><rect x="1661.6" y="159.1" width="546.8" height="572.8" rx="272.8" ry="285.7" fill="#002dff"/><rect x="1663.7" y="161.1" width="542.6" height="568.9" rx="270.5" ry="283.6" fill="#0031ff"/><rect x="1665.8" y="163.0" width="538.5" height="564.9" rx="268.3" ry="281.5" fill="#0035ff"/><rect x="1667.8" y="165.0" width="534.3" height="561.0" rx="266.2" ry="279.5" fill="#0039ff"/><rect x="1669.9" y="166.9" width="530.3" height="557.2" rx="264.0" ry="277.4" fill="#003dff"/><rect x="1671.8" y="168.8" width="526.3" height="553.4" rx="261.9" ry="275.4" fill="#0041ff"/><rect x="1673.8" y="170.7" width="522.4" height="549.6" rx="259.8" ry="273.4" fill="#0045ff"/><rect x="1675.8" y="172.5" width="518.5" height="545.9" rx="257.7" ry="271.4" fill="#0049ff"/><rect x="1677.7" y="174.4" width="514.7" height="542.3" rx="255.7" ry="269.4" fill="#004dff"/><rect x="1679.6" y="176.2" width="510.9" height="538.6" rx="253.6" ry="267.4" fill="#0050ff"/><rect x="1681.4" y="178.0" width="507.2" height="535.0" rx="251.6" ry="265.4" fill="#0054ff"/><rect x="1683.3" y="179.8" width="503.5" height="531.5" rx="249.6" ry="263.5" fill="#0058ff"/><rect x="1685.1" y="181.5" width="499.9" height="527.9" rx="247.7" ry="261.6" fill="#005cff"/><rect x="1686.9" y="183.3" width="496.3" height="524.5" rx="245.7" ry="259.7" fill="#0060ff"/><rect x="1688.6" y="185.0" width="492.8" height="521.0" rx="243.8" ry="257.8" fill="#0064ff"/><rect x="1690.4" y="186.7" width="489.3" height="517.6" rx="241.9" ry="255.9" fill="#0068ff"/><rect x="1692.1" y="188.4" width="485.8" height="514.2" rx="240.0" ry="254.1" fill="#006cff"/><rect x="1693.8" y="190.1" width="482.4" height="510.9" rx="238.2" ry="252.2" fill="#0070ff"/><rect x="1695.5" y="191.7" width="479.1" height="507.6" rx="236.3" ry="250.4" fill="#0074ff"/><rect x="1697.1" y="193.4" width="475.8" height="504.3" rx="234.5" ry="248.6" fill="#0078ff"/><rect x="1698.7" y="195.0" width="472.5" height="501.0" rx="232.7" ry="246.8" fill="#007cff"/><rect x="1700.4" y="196.6" width="469.3" height="497.8" rx="231.0" ry="245.0" fill="#0080ff"/><rect x="1702.0" y="198.2" width="466.1" height="494.7" rx="229.2" ry="243.2" fill="#0083ff"/><rect x="1703.5" y="199.7" width="462.9" height="491.5" rx="227.5" ry="241.5" fill="#0087ff"/><rect x="1705.1" y="201.3" width="459.8" height="488.4" rx="225.8" ry="239.8" fill="#008bff"/><rect x="1706.6" y="202.9" width="456.8" height="485.3" rx="224.1" ry="238.0" fill="#008fff"/><rect x="1708.1" y="204.4" width="453.7" height="482.2" rx="222.4" ry="236.3" fill="#0093ff"/><rect x="1709.6" y="205.9" width="450.7" height="479.2" rx="220.7" ry="234.7" fill="#0097ff"/><rect x="1711.1" y="207.4" width="447.7" height="476.2" rx="219.1" ry="233.0" fill="#009bff"/><rect x="1712.6" y="208.9" width="444.8" height="473.2" rx="217.5" ry="231.3" fill="#009fff"/><rect x="1714.1" y="210.4" width="441.9" height="470.2" rx="215.9" ry="229.7" fill="#00a3ff"/><rect x="1715.5" y="211.9" width="439.0" height="467.3" rx="214.3" ry="228.1" fill="#00a7ff"/><rect x="1716.9" y="213.3" width="436.2" height="464.4" rx="212.7" ry="226.4" fill="#00abff"/><rect x="1718.3" y="214.8" width="433.3" height="461.5" rx="211.1" ry="224.8" fill="#00afff"/><rect x="1719.7" y="216.2" width="430.5" height="458.6" rx="209.6" ry="223.3" fill="#00b3ff"/><rect x="1721.1" y="217.6" width="427.8" height="455.7" rx="208.1" ry="221.7" fill="#00b6ff"/><rect x="1722.5" y="219.0" width="425.0" height="452.9" rx="206.6" ry="220.1" fill="#00baff"/><rect x="1723.8" y="220.4" width="422.3" height="450.1" rx="205.1" ry="218.6" fill="#00beff"/><rect x="1725.2" y="221.8" width="419.6" height="447.3" rx="203.6" ry="217.1" fill="#00c2ff"/><rect x="1726.5" y="223.2" width="416.9" height="444.5" rx="202.1" ry="215.5" fill="#00c6ff"/><rect x="1727.9" y="224.6" width="414.3" height="441.8" rx="200.7" ry="214.0" fill="#00caff"/><rect x="1729.2" y="226.0" width="411.6" height="439.1" rx="199.3" ry="212.5" fill="#00ceff"/><rect x="1730.5" y="227.3" width="409.0" height="436.3" rx="197.9" ry="211.1" fill="#00d2ff"/><rect x="1731.8" y="228.7" width="406.4" height="433.6" rx="196.4" ry="209.6" fill="#00d6ff"/><rect x="1733.1" y="230.0" width="403.9" height="430.9" rx="195.1" ry="208.1" fill="#00daff"/><rect x="1734.4" y="231.4" width="401.3" height="428.3" rx="193.7" ry="206.7" fill="#00deff"/><rect x="1735.6" y="232.7" width="398.7" height="425.6" rx="192.3" ry="205.3" fill="#00e2ff"/><rect x="1736.9" y="234.0" width="396.2" height="423.0" rx="191.0" ry="203.8" fill="#00e6ff"/><rect x="1738.2" y="235.3" width="393.7" height="420.3" rx="189.6" ry="202.4" fill="#00e9ff"/><rect x="1739.4" y="236.7" width="391.2" height="417.7" rx="188.3" ry="201.0" fill="#00edff"/><rect x="1740.7" y="238.0" width="388.7" height="415.1" rx="187.0" ry="199.7" fill="#00f1ff"/><rect x="1741.9" y="239.3" width="386.2" height="412.5" rx="185.6" ry="198.3" fill="#00f5ff"/><rect x="1743.1" y="240.6" width="383.7" height="409.9" rx="184.3" ry="196.9" fill="#00f9ff"/><rect x="1744.4" y="241.9" width="381.2" height="407.3" rx="183.0" ry="195.6" fill="#00fdff"/><rect x="1745.6" y="243.1" width="378.8" height="404.7" rx="181.8" ry="194.2" fill="#02fffd"/><rect x="1746.8" y="244.4" width="376.3" height="402.2" rx="180.5" ry="192.9" fill="#06fff9"/><rect x="1748.0" y="245.7" width="373.9" height="399.6" rx="179.2" ry="191.6" fill="#0afff5"/><rect x="1749.2" y="246.9" width="371.6" height="397.1" rx="178.0" ry="190.3" fill="#0efff1"/><rect x="1750.4" y="248.2" width="369.2" height="394.6" rx="176.8" ry="189.0" fill="#12ffed"/><rect x="1751.6" y="249.4" width="366.9" height="392.2" rx="175.6" ry="187.7" fill="#16ffe9"/><rect x="1752.7" y="250.6" width="364.6" height="389.7" rx="174.4" ry="186.4" fill="#1affe5"/><rect x="1753.8" y="251.8" width="362.3" height="387.3" rx="173.2" ry="185.2" fill="#1dffe2"/><rect x="1754.9" y="253.0" width="360.1" height="384.9" rx="172.1" ry="183.9" fill="#21ffde"/><rect x="1756.0" y="254.2" width="357.9" height="382.5" rx="171.0" ry="182.7" fill="#25ffda"/><rect x="1757.1" y="255.4" width="355.7" height="380.2" rx="169.8" ry="181.5" fill="#29ffd6"/><rect x="1758.2" y="256.6" width="353.6" height="377.8" rx="168.7" ry="180.3" fill="#2dffd2"/><rect x="1759.3" y="257.7" width="351.4" height="375.5" rx="167.6" ry="179.1" fill="#31ffce"/><rect x="1760.4" y="258.9" width="349.3" height="373.2" rx="166.5" ry="177.9" fill="#35ffca"/><rect x="1761.4" y="260.0" width="347.2" height="370.9" rx="165.4" ry="176.8" fill="#39ffc6"/><rect x="1762.4" y="261.2" width="345.1" height="368.7" rx="164.4" ry="175.6" fill="#3dffc2"/><rect x="1763.5" y="262.3" width="343.1" height="366.4" rx="163.3" ry="174.4" fill="#41ffbe"/><rect x="1764.5" y="263.4" width="341.0" height="364.2" rx="162.3" ry="173.3" fill="#45ffba"/><rect x="1765.5" y="264.5" width="339.0" height="362.0" rx="161.3" ry="172.2" fill="#49ffb6"/><rect x="1766.5" y="265.6" width="337.0" height="359.8" rx="160.2" ry="171.0" fill="#4dffb2"/><rect x="1767.5" y="266.7" width="335.1" height="357.6" rx="159.2" ry="169.9" fill="#50ffaf"/><rect x="1768.4" y="267.8" width="333.1" height="355.4" rx="158.2" ry="168.8" fill="#54ffab"/><rect x="1769.4" y="268.9" width="331.2" height="353.3" rx="157.2" ry="167.7" fill="#58ffa7"/><rect x="1770.4" y="269.9" width="329.2" height="351.1" rx="156.2" ry="166.6" fill="#5cffa3"/><rect x="1771.3" y="271.0" width="327.3" height="349.0" rx="155.3" ry="165.6" fill="#60ff9f"/><rect x="1772.3" y="272.0" width="325.4" height="346.9" rx="154.3" ry="164.5" fill="#64ff9b"/><rect x="1773.2" y="273.1" width="323.5" height="344.8" rx="153.3" ry="163.4" fill="#68ff97"/><rect x="1774.2" y="274.1" width="321.7" height="342.7" rx="152.4" ry="162.4" fill="#6cff93"/><rect x="1775.1" y="275.2" width="319.8" height="340.7" rx="151.4" ry="161.3" fill="#70ff8f"/><rect x="1776.0" y="276.2" width="318.0" height="338.6" rx="150.5" ry="160.3" fill="#74ff8b"/><rect x="1776.9" y="277.2" width="316.1" height="336.5" rx="149.6" ry="159.2" fill="#78ff87"/><rect x="1777.9" y="278.3" width="314.3" height="334.5" rx="148.6" ry="158.2" fill="#7cff83"/><rect x="1778.8" y="279.3" width="312.5" height="332.5" rx="147.7" ry="157.2" fill="#80ff80"/><rect x="1779.7" y="280.3" width="310.7" height="330.4" rx="146.8" ry="156.1" fill="#83ff7c"/><rect x="1780.6" y="281.3" width="308.9" height="328.4" rx="145.9" ry="155.1" fill="#87ff78"/><rect x="1781.5" y="282.3" width="307.1" height="326.4" rx="145.0" ry="154.1" fill="#8bff74"/><rect x="1782.4" y="283.3" width="305.3" height="324.4" rx="144.0" ry="153.1" fill="#8fff70"/><rect x="1783.3" y="284.3" width="303.5" height="322.4" rx="143.1" ry="152.1" fill="#93ff6c"/><rect x="1784.1" y="285.3" width="301.7" height="320.5" rx="142.2" ry="151.1" fill="#97ff68"/><rect x="1785.0" y="286.3" width="299.9" height="318.5" rx="141.3" ry="150.1" fill="#9bff64"/><rect x="1785.9" y="287.2" width="298.2" height="316.5" rx="140.4" ry="149.1" fill="#9fff60"/><rect x="1786.8" y="288.2" width="296.4" height="314.6" rx="139.5" ry="148.1" fill="#a3ff5c"/><rect x="1787.7" y="289.2" width="294.6" height="312.6" rx="138.6" ry="147.1" fill="#a7ff58"/><rect x="1788.6" y="290.2" width="292.9" height="310.6" rx="137.8" ry="146.1" fill="#abff54"/><rect x="1789.4" y="291.2" width="291.1" height="308.7" rx="136.9" ry="145.1" fill="#afff50"/><rect x="1790.3" y="292.1" width="289.3" height="306.8" rx="136.0" ry="144.1" fill="#b3ff4c"/><rect x="1791.2" y="293.1" width="287.6" height="304.8" rx="135.1" ry="143.2" fill="#b6ff49"/><rect x="1792.1" y="294.1" width="285.8" height="302.9" rx="134.2" ry="142.2" fill="#baff45"/><rect x="1793.0" y="295.0" width="284.1" height="300.9" rx="133.3" ry="141.2" fill="#beff41"/><rect x="1793.9" y="296.0" width="282.3" height="299.0" rx="132.4" ry="140.2" fill="#c2ff3d"/><rect x="1794.7" y="297.0" width="280.5" height="297.1" rx="131.5" ry="139.3" fill="#c6ff39"/><rect x="1795.6" y="297.9" width="278.7" height="295.2" rx="130.6" ry="138.3" fill="#caff35"/><rect x="1796.5" y="298.9" width="277.0" height="293.2" rx="129.7" ry="137.3" fill="#ceff31"/><rect x="1797.4" y="299.9" width="275.2" height="291.3" rx="128.8" ry="136.3" fill="#d2ff2d"/><rect x="1798.3" y="300.8" width="273.4" height="289.4" rx="127.9" ry="135.4" fill="#d6ff29"/><rect x="1799.2" y="301.8" width="271.6" height="287.4" rx="127.0" ry="134.4" fill="#daff25"/><rect x="1800.1" y="302.7" width="269.8" height="285.5" rx="126.1" ry="133.4" fill="#deff21"/><rect x="1801.0" y="303.7" width="268.0" height="283.6" rx="125.1" ry="132.4" fill="#e2ff1d"/><rect x="1801.9" y="304.7" width="266.1" height="281.6" rx="124.2" ry="131.5" fill="#e6ff19"/><rect x="1802.9" y="305.6" width="264.3" height="279.7" rx="123.3" ry="130.5" fill="#e9ff16"/><rect x="1803.8" y="306.6" width="262.4" height="277.8" rx="122.4" ry="129.5" fill="#edff12"/><rect x="1804.7" y="307.6" width="260.6" height="275.8" rx="121.4" ry="128.5" fill="#f1ff0e"/><rect x="1805.6" y="308.6" width="258.7" height="273.9" rx="120.5" ry="127.5" fill="#f5ff0a"/><rect x="1806.6" y="309.5" width="256.8" height="271.9" rx="119.5" ry="126.6" fill="#f9ff06"/><rect x="1807.5" y="310.5" width="255.0" height="270.0" rx="118.6" ry="125.6" fill="#fdff02"/><rect x="1808.5" y="311.5" width="253.0" height="268.0" rx="117.6" ry="124.6" fill="#fffd00"/><rect x="1809.4" y="312.5" width="251.2" height="266.1" rx="116.7" ry="123.6" fill="#fff900"/><rect x="1810.4" y="313.4" width="249.3" height="264.2" rx="115.7" ry="122.6" fill="#fff500"/><rect x="1811.3" y="314.4" width="247.4" height="262.3" rx="114.8" ry="121.7" fill="#fff100"/><rect x="1812.2" y="315.3" width="245.6" height="260.4" rx="113.8" ry="120.7" fill="#ffed00"/><rect x="1813.1" y="316.2" width="243.7" height="258.6" rx="112.9" ry="119.8" fill="#ffe900"/><rect x="1814.0" y="317.1" width="241.9" height="256.7" rx="112.0" ry="118.8" fill="#ffe500"/><rect x="1814.9" y="318.0" width="240.1" height="254.9" rx="111.0" ry="117.9" fill="#ffe200"/><rect x="1815.8" y="318.9" width="238.3" height="253.1" rx="110.1" ry="116.9" fill="#ffde00"/><rect x="1816.7" y="319.8" width="236.5" height="251.3" rx="109.2" ry="116.0" fill="#ffda00"/><rect x="1817.6" y="320.7" width="234.8" height="249.6" rx="108.3" ry="115.1" fill="#ffd600"/><rect x="1818.5" y="321.6" width="233.0" height="247.8" rx="107.3" ry="114.2" fill="#ffd200"/><rect x="1819.4" y="322.5" width="231.2" height="246.1" rx="106.4" ry="113.3" fill="#ffce00"/><rect x="1820.3" y="323.3" width="229.5" height="244.4" rx="105.5" ry="112.4" fill="#ffca00"/><rect x="1821.1" y="324.2" width="227.7" height="242.7" rx="104.6" ry="111.4" fill="#ffc600"/><rect x="1822.0" y="325.0" width="226.0" height="240.9" rx="103.7" ry="110.6" fill="#ffc200"/><rect x="1822.9" y="325.9" width="224.3" height="239.3" rx="102.8" ry="109.7" fill="#ffbe00"/><rect x="1823.7" y="326.7" width="222.5" height="237.6" rx="101.9" ry="108.8" fill="#ffba00"/><rect x="1824.6" y="327.6" width="220.8" height="235.9" rx="101.0" ry="107.9" fill="#ffb600"/><rect x="1825.5" y="328.4" width="219.1" height="234.2" rx="100.1" ry="107.0" fill="#ffb200"/><rect x="1826.3" y="329.2" width="217.4" height="232.6" rx="99.2" ry="106.1" fill="#ffaf00"/><rect x="1827.2" y="330.0" width="215.7" height="230.9" rx="98.3" ry="105.3" fill="#ffab00"/><rect x="1828.0" y="330.9" width="213.9" height="229.3" rx="97.4" ry="104.4" fill="#ffa700"/><rect x="1828.9" y="331.7" width="212.2" height="227.6" rx="96.5" ry="103.5" fill="#ffa300"/><rect x="1829.7" y="332.5" width="210.5" height="226.0" rx="95.6" ry="102.6" fill="#ff9f00"/><rect x="1830.6" y="333.3" width="208.8" height="224.3" rx="94.7" ry="101.8" fill="#ff9b00"/><rect x="1831.5" y="334.2" width="207.1" height="222.7" rx="93.9" ry="100.9" fill="#ff9700"/><rect x="1832.3" y="335.0" width="205.4" height="221.0" rx="93.0" ry="100.1" fill="#ff9300"/><rect x="1833.2" y="335.8" width="203.6" height="219.4" rx="92.1" ry="99.2" fill="#ff8f00"/><rect x="1834.1" y="336.6" width="201.9" height="217.7" rx="91.2" ry="98.3" fill="#ff8b00"/><rect x="1834.9" y="337.5" width="200.2" height="216.1" rx="90.3" ry="97.5" fill="#ff8700"/><rect x="1835.8" y="338.3" width="198.4" height="214.4" rx="89.4" ry="96.6" fill="#ff8300"/><rect x="1836.7" y="339.1" width="196.7" height="212.7" rx="88.5" ry="95.8" fill="#ff8000"/><rect x="1837.5" y="340.0" width="194.9" height="211.1" rx="87.6" ry="94.9" fill="#ff7c00"/><rect x="1838.4" y="340.8" width="193.2" height="209.4" rx="86.8" ry="94.0" fill="#ff7800"/><rect x="1839.3" y="341.6" width="191.4" height="207.7" rx="85.9" ry="93.2" fill="#ff7400"/><rect x="1840.2" y="342.5" width="189.6" height="206.0" rx="85.0" ry="92.3" fill="#ff7000"/><rect x="1841.1" y="343.3" width="187.8" height="204.3" rx="84.1" ry="91.5" fill="#ff6c00"/><rect x="1842.0" y="344.2" width="186.0" height="202.6" rx="83.2" ry="90.6" fill="#ff6800"/><rect x="1842.9" y="345.1" width="184.2" height="200.9" rx="82.3" ry="89.7" fill="#ff6400"/><rect x="1843.8" y="345.9" width="182.4" height="199.1" rx="81.4" ry="88.9" fill="#ff6000"/><rect x="1844.7" y="346.8" width="180.6" height="197.4" rx="80.5" ry="88.0" fill="#ff5c00"/><rect x="1845.6" y="347.7" width="178.7" height="195.6" rx="79.6" ry="87.1" fill="#ff5800"/><rect x="1846.6" y="348.6" width="176.9" height="193.8" rx="78.7" ry="86.3" fill="#ff5400"/><rect x="1847.5" y="349.5" width="175.0" height="192.0" rx="77.8" ry="85.4" fill="#ff5000"/><rect x="1848.5" y="350.4" width="173.1" height="190.2" rx="76.9" ry="84.5" fill="#ff4c00"/><rect x="1849.4" y="351.3" width="171.2" height="188.4" rx="76.0" ry="83.6" fill="#ff4900"/><rect x="1850.4" y="352.2" width="169.3" height="186.5" rx="75.1" ry="82.7" fill="#ff4500"/><rect x="1851.3" y="353.2" width="167.3" height="184.6" rx="74.1" ry="81.8" fill="#ff4100"/><rect x="1852.3" y="354.1" width="165.4" height="182.8" rx="73.2" ry="80.9" fill="#ff3d00"/><rect x="1853.3" y="355.1" width="163.4" height="180.8" rx="72.3" ry="80.0" fill="#ff3900"/><rect x="1854.3" y="356.1" width="161.4" height="178.9" rx="71.3" ry="79.1" fill="#ff3500"/><rect x="1855.3" y="357.0" width="159.3" height="176.9" rx="70.4" ry="78.2" fill="#ff3100"/><rect x="1856.4" y="358.0" width="157.3" height="174.9" rx="69.5" ry="77.3" fill="#ff2d00"/><rect x="1857.4" y="359.0" width="155.2" height="172.9" rx="68.5" ry="76.3" fill="#ff2900"/><rect x="1858.4" y="360.1" width="153.1" height="170.9" rx="67.6" ry="75.4" fill="#ff2500"/><rect x="1859.5" y="361.1" width="151.0" height="168.8" rx="66.6" ry="74.4" fill="#ff2100"/><rect x="1860.6" y="362.1" width="148.9" height="166.7" rx="65.6" ry="73.5" fill="#ff1d00"/><rect x="1861.6" y="363.2" width="146.7" height="164.6" rx="64.6" ry="72.5" fill="#ff1900"/><rect x="1862.7" y="364.3" width="144.5" height="162.4" rx="63.7" ry="71.5" fill="#ff1600"/><rect x="1863.8" y="365.4" width="142.3" height="160.3" rx="62.7" ry="70.6" fill="#ff1200"/><rect x="1865.0" y="366.5" width="140.1" height="158.0" rx="61.7" ry="69.6" fill="#ff0e00"/><rect x="1866.1" y="367.6" width="137.8" height="155.8" rx="60.6" ry="68.6" fill="#ff0a00"/><rect x="1867.2" y="368.8" width="135.5" height="153.5" rx="59.6" ry="67.5" fill="#ff0600"/><rect x="1868.4" y="369.9" width="133.2" height="151.2" rx="58.6" ry="66.5" fill="#ff0200"/><rect x="1869.6" y="371.1" width="130.8" height="148.8" rx="57.6" ry="65.5" fill="#fd0000"/><rect x="1870.7" y="372.2" width="128.5" height="146.5" rx="56.5" ry="64.5" fill="#f90000"/><rect x="1871.9" y="373.4" width="126.2" height="144.3" rx="55.5" ry="63.5" fill="#f50000"/><rect x="1873.0" y="374.5" width="123.9" height="142.0" rx="54.5" ry="62.5" fill="#f10000"/><rect x="1874.2" y="375.6" width="121.7" height="139.8" rx="53.5" ry="61.5" fill="#ed0000"/><rect x="1875.3" y="376.7" width="119.4" height="137.6" rx="52.5" ry="60.5" fill="#e90000"/><rect x="1876.4" y="377.8" width="117.1" height="135.4" rx="51.5" ry="59.6" fill="#e50000"/><rect x="1877.6" y="378.9" width="114.8" height="133.1" rx="50.5" ry="58.6" fill="#e20000"/><rect x="1878.8" y="380.1" width="112.5" height="130.8" rx="49.5" ry="57.6" fill="#de0000"/><rect x="1880.0" y="381.3" width="110.1" height="128.4" rx="48.4" ry="56.5" fill="#da0000"/><rect x="1881.2" y="382.5" width="107.6" height="126.0" rx="47.3" ry="55.4" fill="#d60000"/><rect x="1882.5" y="383.7" width="105.1" height="123.5" rx="46.2" ry="54.3" fill="#d20000"/><rect x="1883.8" y="385.0" width="102.5" height="120.9" rx="45.1" ry="53.2" fill="#ce0000"/><rect x="1885.1" y="386.4" width="99.8" height="118.2" rx="43.9" ry="52.0" fill="#ca0000"/><rect x="1886.5" y="387.8" width="97.0" height="115.3" rx="42.7" ry="50.8" fill="#c60000"/><rect x="1888.0" y="389.3" width="94.1" height="112.4" rx="41.4" ry="49.4" fill="#c20000"/><rect x="1889.5" y="390.9" width="91.0" height="109.2" rx="40.1" ry="48.1" fill="#be0000"/><rect x="1891.1" y="392.5" width="87.9" height="105.9" rx="38.7" ry="46.6" fill="#ba0000"/><rect x="1892.7" y="394.3" width="84.5" height="102.4" rx="37.2" ry="45.1" fill="#b60000"/><rect x="1894.5" y="396.1" width="81.1" height="98.8" rx="35.7" ry="43.5" fill="#b20000"/><rect x="1896.3" y="398.1" width="77.4" height="94.9" rx="34.1" ry="41.8" fill="#af0000"/><rect x="1898.2" y="400.1" width="73.6" height="90.8" rx="32.4" ry="39.9" fill="#ab0000"/><rect x="1900.2" y="402.3" width="69.6" height="86.4" rx="30.6" ry="38.0" fill="#a70000"/><rect x="1902.3" y="404.6" width="65.3" height="81.9" rx="28.8" ry="36.0" fill="#a30000"/><rect x="1904.5" y="407.0" width="60.9" height="77.0" rx="26.8" ry="33.9" fill="#9f0000"/><rect x="1907.1" y="409.9" width="55.8" height="71.2" rx="24.6" ry="31.3" fill="#9b0000"/><rect x="1910.3" y="413.8" width="49.5" height="63.5" rx="21.8" ry="27.9" fill="#970000"/><rect x="1914.0" y="418.4" width="42.0" height="54.1" rx="18.5" ry="23.8" fill="#930000"/><rect x="1918.1" y="423.7" width="33.9" height="43.7" rx="14.9" ry="19.2" fill="#8f0000"/><rect x="1922.4" y="429.2" width="25.3" height="32.6" rx="11.1" ry="14.3" fill="#8b0000"/><rect x="1926.7" y="434.9" width="16.6" height="21.3" rx="7.3" ry="9.4" fill="#870000"/><rect x="1931.0" y="440.4" width="8.0" height="10.3" rx="3.5" ry="4.5" fill="#830000"/>
</g>
<linearGradient id="cB" gradientUnits="userSpaceOnUse" x1="0" y1="793.8" x2="0" y2="111.6">
<stop offset="0.0000" stop-color="#000089"/>
<stop offset="0.1160" stop-color="#0000ff"/>
<stop offset="0.3660" stop-color="#00ffff"/>
<stop offset="0.6160" stop-color="#ffff00"/>
<stop offset="0.8660" stop-color="#ff0000"/>
<stop offset="1.0000" stop-color="#800000"/>
</linearGradient>
<rect x="2290.4" y="111.6" width="28.6" height="682.2" fill="url(#cB)"/>
<g font-family='"Liberation Serif", "DejaVu Serif", serif' font-size="59" fill="#333">
<text x="1573.0" y="120.3" text-anchor="end">50</text>
<text x="1573.0" y="293.9" text-anchor="end">25</text>
<text x="1573.0" y="467.6" text-anchor="end">0</text>
<text x="1573.0" y="641.2" text-anchor="end">-25</text>
<text x="1573.0" y="814.8" text-anchor="end">-50</text>
<text x="1588.0" y="862.5" text-anchor="middle">-50</text>
<text x="1762.0" y="862.5" text-anchor="middle">-25</text>
<text x="1936.0" y="862.5" text-anchor="middle">0</text>
<text x="2110.0" y="862.5" text-anchor="middle">25</text>
<text x="2284.0" y="862.5" text-anchor="middle">50</text>
</g>
<g font-family='"Liberation Serif", "DejaVu Serif", serif' font-size="71" fill="#333">
<svg x="0" y="0" width="2492" height="950.8" viewBox="0 0 2492 950.8" overflow="hidden"><text x="1934.7" y="937.4" text-anchor="middle"><tspan font-style="italic">x</tspan>(<tspan font-style="italic">μ</tspan>m)</text></svg>
<svg x="0" y="0" width="1424.0" height="2365" viewBox="0 0 1424.0 2365" overflow="hidden"><text transform="translate(1409.0,443.5) rotate(-90)" text-anchor="middle"><tspan font-style="italic">y</tspan>(<tspan font-style="italic">μ</tspan>m)</text></svg>
</g>
<g font-family='"Liberation Serif", "DejaVu Serif", serif' font-size="51" fill="#333">
<text x="2333.0" y="198.8">5</text>
<text x="2333.0" y="326.2">4</text>
<text x="2333.0" y="453.6">3</text>
<text x="2333.0" y="581.0">2</text>
<text x="2333.0" y="708.4">1</text>
<text x="2322.5" y="94.8" font-size="52">×<tspan dx="8">10</tspan><tspan font-size="40" dy="-27" dx="1">-4</tspan></text>
</g>
</g>
<g id="panel-c">
<clipPath id="gC"><rect x="252.3" y="1310.0" width="694.9" height="693.5"/></clipPath>
<g clip-path="url(#gC)" shape-rendering="geometricPrecision">
<rect x="250.3" y="1308.0" width="698.9" height="697.5" fill="#000080"/>
<rect x="63.2" y="1120.3" width="1072.7" height="1072.7" rx="536.4" ry="536.3" fill="#000083"/><rect x="87.0" y="1144.1" width="1025.1" height="1025.0" rx="512.6" ry="512.5" fill="#000087"/><rect x="106.7" y="1163.7" width="985.8" height="985.7" rx="492.9" ry="492.9" fill="#00008b"/><rect x="121.3" y="1178.2" width="956.5" height="956.9" rx="478.3" ry="478.4" fill="#00008f"/><rect x="134.5" y="1191.1" width="930.3" height="931.0" rx="465.1" ry="465.5" fill="#000093"/><rect x="146.3" y="1202.8" width="906.5" height="907.6" rx="453.3" ry="453.8" fill="#000097"/><rect x="157.1" y="1213.4" width="884.9" height="886.4" rx="442.5" ry="443.2" fill="#00009b"/><rect x="167.1" y="1223.1" width="865.0" height="867.0" rx="432.5" ry="433.5" fill="#00009f"/><rect x="176.4" y="1232.2" width="846.5" height="848.9" rx="423.2" ry="424.4" fill="#0000a3"/><rect x="185.2" y="1240.7" width="828.9" height="831.8" rx="414.4" ry="415.9" fill="#0000a7"/><rect x="193.7" y="1248.9" width="811.8" height="815.3" rx="405.9" ry="407.7" fill="#0000ab"/><rect x="202.1" y="1257.0" width="795.0" height="799.2" rx="397.5" ry="399.6" fill="#0000af"/><rect x="210.3" y="1265.0" width="778.6" height="783.2" rx="389.3" ry="391.6" fill="#0000b2"/><rect x="218.2" y="1272.7" width="762.8" height="767.7" rx="381.4" ry="383.9" fill="#0000b6"/><rect x="225.7" y="1280.1" width="747.7" height="752.9" rx="373.9" ry="376.5" fill="#0000ba"/><rect x="232.9" y="1287.1" width="733.4" height="739.0" rx="366.7" ry="369.5" fill="#0000be"/><rect x="239.6" y="1293.6" width="719.9" height="726.1" rx="360.0" ry="363.0" fill="#0000c2"/><rect x="246.0" y="1299.3" width="707.3" height="714.5" rx="353.6" ry="357.3" fill="#0000c6"/><rect x="251.8" y="1304.4" width="695.5" height="704.4" rx="347.8" ry="352.2" fill="#0000ca"/><rect x="257.3" y="1308.7" width="684.6" height="695.9" rx="342.3" ry="347.9" fill="#0000ce"/><rect x="262.6" y="1312.6" width="674.0" height="688.0" rx="337.0" ry="344.0" fill="#0000d2"/><rect x="267.8" y="1316.3" width="663.7" height="680.7" rx="331.8" ry="340.3" fill="#0000d6"/><rect x="272.8" y="1319.7" width="653.7" height="673.8" rx="326.8" ry="336.9" fill="#0000da"/><rect x="277.6" y="1322.9" width="643.9" height="667.4" rx="322.0" ry="333.7" fill="#0000de"/><rect x="282.3" y="1326.0" width="634.6" height="661.3" rx="317.3" ry="330.6" fill="#0000e2"/><rect x="286.8" y="1328.8" width="625.6" height="655.6" rx="312.8" ry="327.8" fill="#0000e6"/><rect x="291.0" y="1331.5" width="617.1" height="650.2" rx="308.6" ry="325.1" fill="#0000e9"/><rect x="295.0" y="1334.1" width="609.1" height="645.0" rx="304.6" ry="322.5" fill="#0000ed"/><rect x="298.8" y="1336.6" width="601.6" height="640.1" rx="300.8" ry="320.0" fill="#0000f1"/><rect x="302.3" y="1338.9" width="594.7" height="635.3" rx="297.3" ry="317.7" fill="#0000f5"/><rect x="305.4" y="1341.2" width="588.3" height="630.7" rx="294.2" ry="315.4" fill="#0000f9"/><rect x="308.3" y="1343.5" width="582.6" height="626.2" rx="291.3" ry="313.1" fill="#0000fd"/><rect x="310.9" y="1345.7" width="577.5" height="621.8" rx="288.7" ry="310.9" fill="#0002ff"/><rect x="313.3" y="1347.9" width="572.6" height="617.4" rx="286.2" ry="308.7" fill="#0006ff"/><rect x="315.7" y="1350.1" width="567.7" height="613.1" rx="283.8" ry="306.4" fill="#000aff"/><rect x="318.1" y="1352.2" width="563.0" height="608.8" rx="281.3" ry="304.2" fill="#000eff"/><rect x="320.4" y="1354.3" width="558.4" height="604.6" rx="278.9" ry="302.0" fill="#0012ff"/><rect x="322.7" y="1356.4" width="553.8" height="600.4" rx="276.5" ry="299.8" fill="#0016ff"/><rect x="324.9" y="1358.4" width="549.4" height="596.3" rx="274.1" ry="297.6" fill="#001aff"/><rect x="327.1" y="1360.5" width="545.0" height="592.3" rx="271.8" ry="295.4" fill="#001dff"/><rect x="329.2" y="1362.5" width="540.7" height="588.3" rx="269.5" ry="293.2" fill="#0021ff"/><rect x="331.3" y="1364.5" width="536.5" height="584.3" rx="267.2" ry="291.0" fill="#0025ff"/><rect x="333.4" y="1366.4" width="532.4" height="580.4" rx="264.9" ry="288.8" fill="#0029ff"/><rect x="335.4" y="1368.3" width="528.4" height="576.5" rx="262.7" ry="286.6" fill="#002dff"/><rect x="337.4" y="1370.2" width="524.5" height="572.7" rx="260.4" ry="284.4" fill="#0031ff"/><rect x="339.3" y="1372.1" width="520.6" height="569.0" rx="258.3" ry="282.3" fill="#0035ff"/><rect x="341.2" y="1374.0" width="516.8" height="565.3" rx="256.1" ry="280.1" fill="#0039ff"/><rect x="343.1" y="1375.8" width="513.1" height="561.6" rx="254.0" ry="278.0" fill="#003dff"/><rect x="344.9" y="1377.6" width="509.4" height="558.0" rx="251.8" ry="275.8" fill="#0041ff"/><rect x="346.7" y="1379.4" width="505.9" height="554.4" rx="249.8" ry="273.7" fill="#0045ff"/><rect x="348.4" y="1381.2" width="502.4" height="550.8" rx="247.7" ry="271.6" fill="#0049ff"/><rect x="350.1" y="1382.9" width="498.9" height="547.3" rx="245.7" ry="269.5" fill="#004dff"/><rect x="351.8" y="1384.7" width="495.6" height="543.9" rx="243.7" ry="267.4" fill="#0050ff"/><rect x="353.5" y="1386.4" width="492.3" height="540.5" rx="241.7" ry="265.3" fill="#0054ff"/><rect x="355.1" y="1388.1" width="489.0" height="537.1" rx="239.7" ry="263.3" fill="#0058ff"/><rect x="356.7" y="1389.7" width="485.8" height="533.7" rx="237.8" ry="261.2" fill="#005cff"/><rect x="358.3" y="1391.4" width="482.7" height="530.4" rx="235.9" ry="259.2" fill="#0060ff"/><rect x="359.8" y="1393.0" width="479.6" height="527.1" rx="234.0" ry="257.2" fill="#0064ff"/><rect x="361.3" y="1394.6" width="476.6" height="523.9" rx="232.1" ry="255.2" fill="#0068ff"/><rect x="362.8" y="1396.3" width="473.6" height="520.7" rx="230.3" ry="253.2" fill="#006cff"/><rect x="364.3" y="1397.8" width="470.7" height="517.5" rx="228.5" ry="251.2" fill="#0070ff"/><rect x="365.7" y="1399.4" width="467.8" height="514.4" rx="226.7" ry="249.2" fill="#0074ff"/><rect x="367.1" y="1401.0" width="465.0" height="511.2" rx="224.9" ry="247.3" fill="#0078ff"/><rect x="368.5" y="1402.5" width="462.2" height="508.1" rx="223.2" ry="245.4" fill="#007cff"/><rect x="369.9" y="1404.1" width="459.4" height="505.1" rx="221.4" ry="243.5" fill="#0080ff"/><rect x="371.2" y="1405.6" width="456.7" height="502.0" rx="219.7" ry="241.6" fill="#0083ff"/><rect x="372.6" y="1407.1" width="454.0" height="499.0" rx="218.1" ry="239.7" fill="#0087ff"/><rect x="373.9" y="1408.6" width="451.4" height="496.0" rx="216.4" ry="237.8" fill="#008bff"/><rect x="375.2" y="1410.1" width="448.8" height="493.1" rx="214.8" ry="236.0" fill="#008fff"/><rect x="376.5" y="1411.5" width="446.2" height="490.1" rx="213.1" ry="234.1" fill="#0093ff"/><rect x="377.8" y="1413.0" width="443.7" height="487.2" rx="211.5" ry="232.3" fill="#0097ff"/><rect x="379.0" y="1414.4" width="441.1" height="484.3" rx="210.0" ry="230.5" fill="#009bff"/><rect x="380.3" y="1415.9" width="438.6" height="481.4" rx="208.4" ry="228.7" fill="#009fff"/><rect x="381.5" y="1417.3" width="436.2" height="478.6" rx="206.9" ry="227.0" fill="#00a3ff"/><rect x="382.7" y="1418.7" width="433.7" height="475.7" rx="205.3" ry="225.2" fill="#00a7ff"/><rect x="384.0" y="1420.2" width="431.3" height="472.9" rx="203.8" ry="223.5" fill="#00abff"/><rect x="385.2" y="1421.6" width="428.9" height="470.1" rx="202.3" ry="221.8" fill="#00afff"/><rect x="386.4" y="1423.0" width="426.5" height="467.3" rx="200.9" ry="220.1" fill="#00b3ff"/><rect x="387.5" y="1424.4" width="424.1" height="464.5" rx="199.4" ry="218.4" fill="#00b6ff"/><rect x="388.7" y="1425.7" width="421.7" height="461.7" rx="198.0" ry="216.7" fill="#00baff"/><rect x="389.9" y="1427.1" width="419.4" height="458.9" rx="196.6" ry="215.1" fill="#00beff"/><rect x="391.1" y="1428.5" width="417.0" height="456.2" rx="195.1" ry="213.5" fill="#00c2ff"/><rect x="392.3" y="1429.9" width="414.7" height="453.4" rx="193.7" ry="211.9" fill="#00c6ff"/><rect x="393.4" y="1431.2" width="412.3" height="450.7" rx="192.4" ry="210.3" fill="#00caff"/><rect x="394.6" y="1432.6" width="410.0" height="448.0" rx="191.0" ry="208.7" fill="#00ceff"/><rect x="395.8" y="1434.0" width="407.6" height="445.2" rx="189.6" ry="207.1" fill="#00d2ff"/><rect x="397.0" y="1435.3" width="405.3" height="442.5" rx="188.3" ry="205.6" fill="#00d6ff"/><rect x="398.1" y="1436.7" width="402.9" height="439.8" rx="187.0" ry="204.1" fill="#00daff"/><rect x="399.3" y="1438.1" width="400.6" height="437.1" rx="185.6" ry="202.6" fill="#00deff"/><rect x="400.5" y="1439.4" width="398.2" height="434.4" rx="184.3" ry="201.1" fill="#00e2ff"/><rect x="401.7" y="1440.8" width="395.8" height="431.7" rx="183.0" ry="199.6" fill="#00e6ff"/><rect x="402.9" y="1442.1" width="393.4" height="429.0" rx="181.7" ry="198.2" fill="#00e9ff"/><rect x="404.1" y="1443.5" width="391.0" height="426.2" rx="180.5" ry="196.7" fill="#00edff"/><rect x="405.3" y="1444.8" width="388.6" height="423.5" rx="179.2" ry="195.3" fill="#00f1ff"/><rect x="406.5" y="1446.2" width="386.2" height="420.8" rx="177.9" ry="193.9" fill="#00f5ff"/><rect x="407.7" y="1447.6" width="383.7" height="418.1" rx="176.7" ry="192.5" fill="#00f9ff"/><rect x="409.0" y="1448.9" width="381.2" height="415.4" rx="175.4" ry="191.1" fill="#00fdff"/><rect x="410.2" y="1450.3" width="378.8" height="412.6" rx="174.2" ry="189.8" fill="#02fffd"/><rect x="411.5" y="1451.6" width="376.3" height="409.9" rx="172.9" ry="188.4" fill="#06fff9"/><rect x="412.7" y="1453.0" width="373.8" height="407.2" rx="171.7" ry="187.1" fill="#0afff5"/><rect x="413.9" y="1454.3" width="371.3" height="404.5" rx="170.5" ry="185.7" fill="#0efff1"/><rect x="415.2" y="1455.7" width="368.9" height="401.8" rx="169.3" ry="184.4" fill="#12ffed"/><rect x="416.4" y="1457.0" width="366.5" height="399.1" rx="168.1" ry="183.1" fill="#16ffe9"/><rect x="417.6" y="1458.4" width="364.1" height="396.5" rx="166.9" ry="181.8" fill="#1affe5"/><rect x="418.8" y="1459.7" width="361.7" height="393.8" rx="165.8" ry="180.5" fill="#1dffe2"/><rect x="420.0" y="1461.0" width="359.3" height="391.2" rx="164.6" ry="179.2" fill="#21ffde"/><rect x="421.1" y="1462.3" width="356.9" height="388.6" rx="163.5" ry="178.0" fill="#25ffda"/><rect x="422.3" y="1463.6" width="354.6" height="386.0" rx="162.3" ry="176.7" fill="#29ffd6"/><rect x="423.5" y="1464.9" width="352.2" height="383.4" rx="161.2" ry="175.4" fill="#2dffd2"/><rect x="424.7" y="1466.2" width="349.9" height="380.8" rx="160.1" ry="174.2" fill="#31ffce"/><rect x="425.8" y="1467.5" width="347.6" height="378.2" rx="159.0" ry="173.0" fill="#35ffca"/><rect x="427.0" y="1468.8" width="345.3" height="375.6" rx="157.9" ry="171.7" fill="#39ffc6"/><rect x="428.1" y="1470.1" width="343.0" height="373.1" rx="156.8" ry="170.5" fill="#3dffc2"/><rect x="429.2" y="1471.3" width="340.7" height="370.5" rx="155.7" ry="169.3" fill="#41ffbe"/><rect x="430.4" y="1472.6" width="338.5" height="368.0" rx="154.6" ry="168.1" fill="#45ffba"/><rect x="431.5" y="1473.9" width="336.2" height="365.5" rx="153.5" ry="166.9" fill="#49ffb6"/><rect x="432.6" y="1475.1" width="334.0" height="363.0" rx="152.5" ry="165.7" fill="#4dffb2"/><rect x="433.7" y="1476.4" width="331.8" height="360.5" rx="151.4" ry="164.5" fill="#50ffaf"/><rect x="434.8" y="1477.6" width="329.6" height="358.0" rx="150.4" ry="163.3" fill="#54ffab"/><rect x="435.9" y="1478.9" width="327.4" height="355.5" rx="149.3" ry="162.1" fill="#58ffa7"/><rect x="437.0" y="1480.1" width="325.2" height="353.0" rx="148.3" ry="161.0" fill="#5cffa3"/><rect x="438.1" y="1481.3" width="323.0" height="350.6" rx="147.3" ry="159.8" fill="#60ff9f"/><rect x="439.2" y="1482.5" width="320.8" height="348.1" rx="146.2" ry="158.7" fill="#64ff9b"/><rect x="440.3" y="1483.8" width="318.7" height="345.7" rx="145.2" ry="157.5" fill="#68ff97"/><rect x="441.3" y="1485.0" width="316.6" height="343.3" rx="144.2" ry="156.4" fill="#6cff93"/><rect x="442.4" y="1486.2" width="314.4" height="340.9" rx="143.2" ry="155.2" fill="#70ff8f"/><rect x="443.4" y="1487.4" width="312.3" height="338.5" rx="142.2" ry="154.1" fill="#74ff8b"/><rect x="444.5" y="1488.6" width="310.2" height="336.1" rx="141.2" ry="153.0" fill="#78ff87"/><rect x="445.5" y="1489.8" width="308.1" height="333.7" rx="140.2" ry="151.9" fill="#7cff83"/><rect x="446.6" y="1490.9" width="306.0" height="331.3" rx="139.2" ry="150.8" fill="#80ff80"/><rect x="447.6" y="1492.1" width="304.0" height="329.0" rx="138.3" ry="149.6" fill="#83ff7c"/><rect x="448.7" y="1493.3" width="301.9" height="326.6" rx="137.3" ry="148.5" fill="#87ff78"/><rect x="449.7" y="1494.5" width="299.8" height="324.3" rx="136.3" ry="147.4" fill="#8bff74"/><rect x="450.7" y="1495.6" width="297.8" height="322.0" rx="135.4" ry="146.4" fill="#8fff70"/><rect x="451.7" y="1496.8" width="295.8" height="319.7" rx="134.4" ry="145.3" fill="#93ff6c"/><rect x="452.7" y="1497.9" width="293.7" height="317.4" rx="133.5" ry="144.2" fill="#97ff68"/><rect x="453.7" y="1499.1" width="291.7" height="315.1" rx="132.5" ry="143.1" fill="#9bff64"/><rect x="454.7" y="1500.2" width="289.7" height="312.8" rx="131.6" ry="142.0" fill="#9fff60"/><rect x="455.7" y="1501.3" width="287.7" height="310.5" rx="130.6" ry="141.0" fill="#a3ff5c"/><rect x="456.7" y="1502.5" width="285.7" height="308.2" rx="129.7" ry="139.9" fill="#a7ff58"/><rect x="457.7" y="1503.6" width="283.8" height="306.0" rx="128.8" ry="138.8" fill="#abff54"/><rect x="458.7" y="1504.7" width="281.8" height="303.8" rx="127.8" ry="137.8" fill="#afff50"/><rect x="459.7" y="1505.8" width="279.8" height="301.5" rx="126.9" ry="136.7" fill="#b3ff4c"/><rect x="460.7" y="1506.9" width="277.9" height="299.3" rx="126.0" ry="135.7" fill="#b6ff49"/><rect x="461.6" y="1508.1" width="275.9" height="297.1" rx="125.1" ry="134.7" fill="#baff45"/><rect x="462.6" y="1509.2" width="274.0" height="294.9" rx="124.1" ry="133.6" fill="#beff41"/><rect x="463.6" y="1510.3" width="272.1" height="292.7" rx="123.2" ry="132.6" fill="#c2ff3d"/><rect x="464.5" y="1511.3" width="270.1" height="290.5" rx="122.3" ry="131.5" fill="#c6ff39"/><rect x="465.5" y="1512.4" width="268.2" height="288.3" rx="121.4" ry="130.5" fill="#caff35"/><rect x="466.4" y="1513.5" width="266.3" height="286.2" rx="120.5" ry="129.5" fill="#ceff31"/><rect x="467.4" y="1514.6" width="264.4" height="284.0" rx="119.6" ry="128.5" fill="#d2ff2d"/><rect x="468.3" y="1515.7" width="262.5" height="281.9" rx="118.7" ry="127.5" fill="#d6ff29"/><rect x="469.3" y="1516.7" width="260.6" height="279.8" rx="117.8" ry="126.5" fill="#daff25"/><rect x="470.2" y="1517.8" width="258.7" height="277.6" rx="116.9" ry="125.4" fill="#deff21"/><rect x="471.2" y="1518.8" width="256.9" height="275.5" rx="116.0" ry="124.4" fill="#e2ff1d"/><rect x="472.1" y="1519.9" width="255.0" height="273.4" rx="115.1" ry="123.4" fill="#e6ff19"/><rect x="473.0" y="1520.9" width="253.1" height="271.3" rx="114.2" ry="122.4" fill="#e9ff16"/><rect x="474.0" y="1522.0" width="251.3" height="269.3" rx="113.3" ry="121.4" fill="#edff12"/><rect x="474.9" y="1523.0" width="249.4" height="267.2" rx="112.4" ry="120.4" fill="#f1ff0e"/><rect x="475.8" y="1524.0" width="247.6" height="265.1" rx="111.6" ry="119.5" fill="#f5ff0a"/><rect x="476.7" y="1525.1" width="245.7" height="263.1" rx="110.7" ry="118.5" fill="#f9ff06"/><rect x="477.6" y="1526.1" width="243.9" height="261.0" rx="109.8" ry="117.5" fill="#fdff02"/><rect x="478.6" y="1527.1" width="242.1" height="259.0" rx="108.9" ry="116.5" fill="#fffd00"/><rect x="479.5" y="1528.1" width="240.3" height="257.0" rx="108.0" ry="115.5" fill="#fff900"/><rect x="480.3" y="1529.1" width="238.5" height="255.0" rx="107.2" ry="114.6" fill="#fff500"/><rect x="481.2" y="1530.1" width="236.8" height="253.0" rx="106.3" ry="113.6" fill="#fff100"/><rect x="482.1" y="1531.0" width="235.1" height="251.1" rx="105.4" ry="112.6" fill="#ffed00"/><rect x="482.9" y="1532.0" width="233.4" height="249.2" rx="104.6" ry="111.7" fill="#ffe900"/><rect x="483.7" y="1532.9" width="231.7" height="247.3" rx="103.7" ry="110.7" fill="#ffe500"/><rect x="484.6" y="1533.9" width="230.1" height="245.5" rx="102.9" ry="109.7" fill="#ffe200"/><rect x="485.4" y="1534.8" width="228.4" height="243.6" rx="102.0" ry="108.8" fill="#ffde00"/><rect x="486.2" y="1535.7" width="226.8" height="241.8" rx="101.2" ry="107.8" fill="#ffda00"/><rect x="487.0" y="1536.6" width="225.3" height="240.0" rx="100.3" ry="106.9" fill="#ffd600"/><rect x="487.8" y="1537.5" width="223.7" height="238.2" rx="99.5" ry="106.0" fill="#ffd200"/><rect x="488.5" y="1538.4" width="222.1" height="236.5" rx="98.7" ry="105.0" fill="#ffce00"/><rect x="489.3" y="1539.2" width="220.6" height="234.7" rx="97.8" ry="104.1" fill="#ffca00"/><rect x="490.0" y="1540.1" width="219.1" height="233.0" rx="97.0" ry="103.2" fill="#ffc600"/><rect x="490.8" y="1541.0" width="217.6" height="231.3" rx="96.2" ry="102.2" fill="#ffc200"/><rect x="491.5" y="1541.8" width="216.1" height="229.6" rx="95.4" ry="101.3" fill="#ffbe00"/><rect x="492.3" y="1542.7" width="214.7" height="227.9" rx="94.6" ry="100.4" fill="#ffba00"/><rect x="493.0" y="1543.5" width="213.2" height="226.2" rx="93.8" ry="99.5" fill="#ffb600"/><rect x="493.7" y="1544.3" width="211.7" height="224.5" rx="93.0" ry="98.6" fill="#ffb200"/><rect x="494.5" y="1545.2" width="210.3" height="222.9" rx="92.2" ry="97.7" fill="#ffaf00"/><rect x="495.2" y="1546.0" width="208.9" height="221.2" rx="91.4" ry="96.8" fill="#ffab00"/><rect x="495.9" y="1546.8" width="207.4" height="219.6" rx="90.6" ry="95.9" fill="#ffa700"/><rect x="496.6" y="1547.6" width="206.0" height="217.9" rx="89.8" ry="95.0" fill="#ffa300"/><rect x="497.3" y="1548.4" width="204.6" height="216.3" rx="89.0" ry="94.1" fill="#ff9f00"/><rect x="498.0" y="1549.3" width="203.2" height="214.7" rx="88.2" ry="93.2" fill="#ff9b00"/><rect x="498.7" y="1550.1" width="201.8" height="213.1" rx="87.4" ry="92.3" fill="#ff9700"/><rect x="499.4" y="1550.9" width="200.4" height="211.5" rx="86.6" ry="91.4" fill="#ff9300"/><rect x="500.1" y="1551.7" width="198.9" height="209.8" rx="85.8" ry="90.5" fill="#ff8f00"/><rect x="500.8" y="1552.5" width="197.5" height="208.2" rx="85.1" ry="89.7" fill="#ff8b00"/><rect x="501.5" y="1553.3" width="196.1" height="206.6" rx="84.3" ry="88.8" fill="#ff8700"/><rect x="502.2" y="1554.1" width="194.7" height="205.0" rx="83.5" ry="87.9" fill="#ff8300"/><rect x="503.0" y="1554.9" width="193.3" height="203.4" rx="82.7" ry="87.0" fill="#ff8000"/><rect x="503.7" y="1555.7" width="191.9" height="201.8" rx="82.0" ry="86.2" fill="#ff7c00"/><rect x="504.4" y="1556.5" width="190.4" height="200.1" rx="81.2" ry="85.3" fill="#ff7800"/><rect x="505.1" y="1557.3" width="189.0" height="198.5" rx="80.4" ry="84.5" fill="#ff7400"/><rect x="505.8" y="1558.2" width="187.5" height="196.9" rx="79.6" ry="83.6" fill="#ff7000"/><rect x="506.6" y="1559.0" width="186.1" height="195.2" rx="78.9" ry="82.7" fill="#ff6c00"/><rect x="507.3" y="1559.8" width="184.6" height="193.6" rx="78.1" ry="81.9" fill="#ff6800"/><rect x="508.0" y="1560.6" width="183.1" height="191.9" rx="77.3" ry="81.0" fill="#ff6400"/><rect x="508.8" y="1561.5" width="181.6" height="190.3" rx="76.5" ry="80.2" fill="#ff6000"/><rect x="509.5" y="1562.3" width="180.1" height="188.6" rx="75.8" ry="79.3" fill="#ff5c00"/><rect x="510.3" y="1563.1" width="178.6" height="186.9" rx="75.0" ry="78.5" fill="#ff5800"/><rect x="511.1" y="1564.0" width="177.1" height="185.2" rx="74.2" ry="77.6" fill="#ff5400"/><rect x="511.8" y="1564.8" width="175.5" height="183.5" rx="73.4" ry="76.8" fill="#ff5000"/><rect x="512.6" y="1565.7" width="173.9" height="181.8" rx="72.6" ry="75.9" fill="#ff4c00"/><rect x="513.4" y="1566.6" width="172.4" height="180.1" rx="71.9" ry="75.1" fill="#ff4900"/><rect x="514.2" y="1567.4" width="170.7" height="178.3" rx="71.1" ry="74.2" fill="#ff4500"/><rect x="515.0" y="1568.3" width="169.1" height="176.5" rx="70.3" ry="73.4" fill="#ff4100"/><rect x="515.9" y="1569.2" width="167.4" height="174.7" rx="69.5" ry="72.5" fill="#ff3d00"/><rect x="516.7" y="1570.1" width="165.8" height="172.9" rx="68.7" ry="71.7" fill="#ff3900"/><rect x="517.6" y="1571.0" width="164.1" height="171.1" rx="67.9" ry="70.8" fill="#ff3500"/><rect x="518.4" y="1572.0" width="162.3" height="169.3" rx="67.1" ry="70.0" fill="#ff3100"/><rect x="519.3" y="1572.9" width="160.6" height="167.4" rx="66.3" ry="69.1" fill="#ff2d00"/><rect x="520.2" y="1573.9" width="158.8" height="165.5" rx="65.5" ry="68.3" fill="#ff2900"/><rect x="521.1" y="1574.8" width="156.9" height="163.6" rx="64.7" ry="67.4" fill="#ff2500"/><rect x="522.1" y="1575.8" width="155.1" height="161.6" rx="63.8" ry="66.5" fill="#ff2100"/><rect x="523.0" y="1576.8" width="153.2" height="159.7" rx="63.0" ry="65.7" fill="#ff1d00"/><rect x="523.9" y="1577.8" width="151.3" height="157.7" rx="62.2" ry="64.8" fill="#ff1900"/><rect x="524.9" y="1578.8" width="149.4" height="155.6" rx="61.3" ry="63.9" fill="#ff1600"/><rect x="525.9" y="1579.8" width="147.4" height="153.6" rx="60.5" ry="63.0" fill="#ff1200"/><rect x="526.9" y="1580.8" width="145.4" height="151.5" rx="59.6" ry="62.2" fill="#ff0e00"/><rect x="527.9" y="1581.9" width="143.3" height="149.4" rx="58.8" ry="61.3" fill="#ff0a00"/><rect x="529.0" y="1583.0" width="141.2" height="147.3" rx="57.9" ry="60.4" fill="#ff0600"/><rect x="530.1" y="1584.1" width="139.1" height="145.1" rx="57.0" ry="59.5" fill="#ff0200"/><rect x="531.1" y="1585.1" width="136.9" height="142.9" rx="56.1" ry="58.6" fill="#fd0000"/><rect x="532.2" y="1586.2" width="134.8" height="140.8" rx="55.3" ry="57.7" fill="#f90000"/><rect x="533.3" y="1587.2" width="132.6" height="138.7" rx="54.4" ry="56.9" fill="#f50000"/><rect x="534.4" y="1588.2" width="130.5" height="136.7" rx="53.5" ry="56.1" fill="#f10000"/><rect x="535.4" y="1589.2" width="128.3" height="134.7" rx="52.6" ry="55.2" fill="#ed0000"/><rect x="536.5" y="1590.2" width="126.2" height="132.8" rx="51.7" ry="54.4" fill="#e90000"/><rect x="537.6" y="1591.2" width="124.0" height="130.8" rx="50.8" ry="53.6" fill="#e50000"/><rect x="538.7" y="1592.2" width="121.7" height="128.9" rx="49.9" ry="52.8" fill="#e20000"/><rect x="539.9" y="1593.2" width="119.4" height="126.9" rx="49.0" ry="52.0" fill="#de0000"/><rect x="541.1" y="1594.2" width="117.1" height="124.8" rx="48.0" ry="51.2" fill="#da0000"/><rect x="542.3" y="1595.2" width="114.6" height="122.7" rx="47.0" ry="50.3" fill="#d60000"/><rect x="543.5" y="1596.3" width="112.1" height="120.6" rx="46.0" ry="49.4" fill="#d20000"/><rect x="544.8" y="1597.4" width="109.5" height="118.3" rx="44.9" ry="48.5" fill="#ce0000"/><rect x="546.2" y="1598.6" width="106.8" height="116.0" rx="43.8" ry="47.5" fill="#ca0000"/><rect x="547.6" y="1599.9" width="104.0" height="113.5" rx="42.6" ry="46.5" fill="#c60000"/><rect x="549.1" y="1601.2" width="101.0" height="110.9" rx="41.4" ry="45.5" fill="#c20000"/><rect x="550.6" y="1602.5" width="97.9" height="108.1" rx="40.1" ry="44.3" fill="#be0000"/><rect x="552.3" y="1604.0" width="94.7" height="105.2" rx="38.8" ry="43.1" fill="#ba0000"/><rect x="554.0" y="1605.5" width="91.3" height="102.1" rx="37.4" ry="41.9" fill="#b60000"/><rect x="555.7" y="1607.2" width="87.7" height="98.8" rx="36.0" ry="40.5" fill="#b20000"/><rect x="557.6" y="1608.9" width="84.0" height="95.3" rx="34.4" ry="39.1" fill="#af0000"/><rect x="559.6" y="1610.8" width="80.0" height="91.6" rx="32.8" ry="37.6" fill="#ab0000"/><rect x="561.7" y="1612.8" width="75.9" height="87.6" rx="31.1" ry="35.9" fill="#a70000"/><rect x="563.8" y="1614.9" width="71.5" height="83.4" rx="29.3" ry="34.2" fill="#a30000"/><rect x="566.1" y="1617.1" width="66.9" height="78.9" rx="27.4" ry="32.4" fill="#9f0000"/><rect x="568.8" y="1619.9" width="61.6" height="73.4" rx="25.3" ry="30.1" fill="#9b0000"/><rect x="572.2" y="1623.8" width="54.7" height="65.7" rx="22.4" ry="26.9" fill="#970000"/><rect x="576.3" y="1628.5" width="46.6" height="56.1" rx="19.1" ry="23.0" fill="#930000"/><rect x="580.8" y="1633.9" width="37.6" height="45.3" rx="15.4" ry="18.6" fill="#8f0000"/><rect x="585.6" y="1639.7" width="28.0" height="33.8" rx="11.5" ry="13.8" fill="#8b0000"/><rect x="590.4" y="1645.6" width="18.3" height="22.0" rx="7.5" ry="9.0" fill="#870000"/><rect x="595.2" y="1651.3" width="8.9" height="10.6" rx="3.6" ry="4.3" fill="#830000"/>
</g>
<linearGradient id="cC" gradientUnits="userSpaceOnUse" x1="0" y1="2003.5" x2="0" y2="1322.4">
<stop offset="0.0000" stop-color="#000089"/>
<stop offset="0.1160" stop-color="#0000ff"/>
<stop offset="0.3660" stop-color="#00ffff"/>
<stop offset="0.6160" stop-color="#ffff00"/>
<stop offset="0.8660" stop-color="#ff0000"/>
<stop offset="1.0000" stop-color="#800000"/>
</linearGradient>
<rect x="953.2" y="1322.4" width="29.6" height="681.1" fill="url(#cC)"/>
<g font-family='"Liberation Serif", "DejaVu Serif", serif' font-size="59" fill="#333">
<text x="236.5" y="1332.5" text-anchor="end">-50</text>
<text x="236.5" y="1505.9" text-anchor="end">-25</text>
<text x="236.5" y="1679.2" text-anchor="end">0</text>
<text x="236.5" y="1852.6" text-anchor="end">25</text>
<text x="236.5" y="2026.0" text-anchor="end">50</text>
<text x="255.0" y="2073.0" text-anchor="middle">-50</text>
<text x="427.0" y="2073.0" text-anchor="middle">-25</text>
<text x="599.0" y="2073.0" text-anchor="middle">0</text>
<text x="771.0" y="2073.0" text-anchor="middle">25</text>
<text x="943.0" y="2073.0" text-anchor="middle">50</text>
</g>
<g font-family='"Liberation Serif", "DejaVu Serif", serif' font-size="71" fill="#333">
<svg x="0" y="0" width="2492" height="2161.5" viewBox="0 0 2492 2161.5" overflow="hidden"><text x="599.0" y="2148.0" text-anchor="middle"><tspan font-style="italic">x</tspan>(<tspan font-style="italic">μ</tspan>m)</text></svg>
<svg x="0" y="0" width="89.0" height="2365" viewBox="0 0 89.0 2365" overflow="hidden"><text transform="translate(74.0,1653.0) rotate(-90)" text-anchor="middle"><tspan font-style="italic">y</tspan>(<tspan font-style="italic">μ</tspan>m)</text></svg>
</g>
<g font-family='"Liberation Serif", "DejaVu Serif", serif' font-size="51" fill="#333">
<text x="996.5" y="1409.5">5</text>
<text x="996.5" y="1536.5">4</text>
<text x="996.5" y="1663.4">3</text>
<text x="996.5" y="1790.3">2</text>
<text x="996.5" y="1917.3">1</text>
<text x="984.0" y="1305.9" font-size="52">×<tspan dx="8">10</tspan><tspan font-size="40" dy="-27" dx="1">-4</tspan></text>
</g>
</g>
<g id="panel-d">
<linearGradient id="dH" x1="0" y1="0" x2="1" y2="0"><stop offset="0" stop-color="#0000f0"/><stop offset="0.12" stop-color="#0000fa"/><stop offset="0.5" stop-color="#0000d6"/><stop offset="0.88" stop-color="#0000fa"/><stop offset="1" stop-color="#0000f0"/></linearGradient>
<radialGradient id="dT" gradientUnits="userSpaceOnUse" cx="0" cy="0" r="1" gradientTransform="translate(1906.0 1310.0) scale(520 335)"><stop offset="0" stop-color="#000070" stop-opacity="0.62"/><stop offset="0.45" stop-color="#000070" stop-opacity="0.4"/><stop offset="1" stop-color="#000070" stop-opacity="0"/></radialGradient>
<radialGradient id="dB" gradientUnits="userSpaceOnUse" cx="0" cy="0" r="1" gradientTransform="translate(1906.0 2004.6) scale(520 335)"><stop offset="0" stop-color="#000070" stop-opacity="0.62"/><stop offset="0.45" stop-color="#000070" stop-opacity="0.4"/><stop offset="1" stop-color="#000070" stop-opacity="0"/></radialGradient>
<rect x="1559.5" y="1310.0" width="693.0" height="694.6" fill="url(#dH)"/>
<rect x="1559.5" y="1310.0" width="693.0" height="694.6" fill="url(#dT)"/>
<rect x="1559.5" y="1310.0" width="693.0" height="694.6" fill="url(#dB)"/>
<rect x="1557.5" y="1310.0" width="2.5" height="694.6" fill="#d8b060"/>
<rect x="2254.0" y="1310.0" width="2.5" height="694.6" fill="#f0c49a"/>
<linearGradient id="cD" gradientUnits="userSpaceOnUse" x1="0" y1="2004.6" x2="0" y2="1310.0">
<stop offset="0.0000" stop-color="#000089"/>
<stop offset="0.1160" stop-color="#0000ff"/>
<stop offset="0.3660" stop-color="#00ffff"/>
<stop offset="0.6160" stop-color="#ffff00"/>
<stop offset="0.8660" stop-color="#ff0000"/>
<stop offset="1.0000" stop-color="#800000"/>
</linearGradient>
<rect x="2258.5" y="1310.0" width="29.8" height="694.6" fill="url(#cD)"/>
<g font-family='"Liberation Serif", "DejaVu Serif", serif' font-size="59" fill="#333">
<text x="1542.5" y="1331.0" text-anchor="end">-50</text>
<text x="1542.5" y="1504.7" text-anchor="end">-25</text>
<text x="1542.5" y="1678.3" text-anchor="end">0</text>
<text x="1542.5" y="1851.9" text-anchor="end">25</text>
<text x="1542.5" y="2025.6" text-anchor="end">50</text>
<text x="1558.0" y="2074.0" text-anchor="middle">-50</text>
<text x="1732.2" y="2074.0" text-anchor="middle">-25</text>
<text x="1906.5" y="2074.0" text-anchor="middle">0</text>
<text x="2080.8" y="2074.0" text-anchor="middle">25</text>
<text x="2255.0" y="2074.0" text-anchor="middle">50</text>
</g>
<g font-family='"Liberation Serif", "DejaVu Serif", serif' font-size="71" fill="#333">
<svg x="0" y="0" width="2492" height="2161.5" viewBox="0 0 2492 2161.5" overflow="hidden"><text x="1904.0" y="2148.0" text-anchor="middle"><tspan font-style="italic">x</tspan>(<tspan font-style="italic">μ</tspan>m)</text></svg>
<svg x="0" y="0" width="1460.5" height="2365" viewBox="0 0 1460.5 2365" overflow="hidden"><text transform="translate(1445.5,1655.0) rotate(-90)" text-anchor="middle"><tspan font-style="italic">y</tspan>(<tspan font-style="italic">μ</tspan>m)</text></svg>
</g>
<g font-family='"Liberation Serif", "DejaVu Serif", serif' font-size="52" fill="#333">
<text x="2302.0" y="1416.8">0.06</text>
<text x="2302.0" y="1510.8">0.05</text>
<text x="2302.0" y="1604.8">0.04</text>
<text x="2302.0" y="1698.8">0.03</text>
<text x="2302.0" y="1792.8">0.02</text>
<text x="2302.0" y="1886.8">0.01</text>
<text x="2302.0" y="1980.8">0</text>
</g>
</g>
<g font-family='"Liberation Serif", "DejaVu Serif", serif' font-size="85" fill="#000">
<text transform="translate(519.5 1104.5) scale(0.88 1)">(</text>
<text x="547.0" y="1104.5" font-weight="bold">a</text>
<text transform="translate(589.5 1104.5) scale(0.88 1)">)</text>
</g>
<g font-family='"Liberation Serif", "DejaVu Serif", serif' font-size="85" fill="#000">
<text transform="translate(1848.5 1105.0) scale(0.88 1)">(</text>
<text x="1876.0" y="1105.0" font-weight="bold">b</text>
<text transform="translate(1927.5 1105.0) scale(0.88 1)">)</text>
</g>
<g font-family='"Liberation Serif", "DejaVu Serif", serif' font-size="85" fill="#000">
<text transform="translate(522.0 2316.0) scale(0.88 1)">(</text>
<text x="548.5" y="2316.0" font-weight="bold">c</text>
<text transform="translate(586.5 2316.0) scale(0.88 1)">)</text>
</g>
<g font-family='"Liberation Serif", "DejaVu Serif", serif' font-size="85" fill="#000">
<text transform="translate(1848.5 2316.0) scale(0.88 1)">(</text>
<text x="1876.0" y="2316.0" font-weight="bold">d</text>
<text transform="translate(1927.5 2316.0) scale(0.88 1)">)</text>
</g>
</svg></body></html>
